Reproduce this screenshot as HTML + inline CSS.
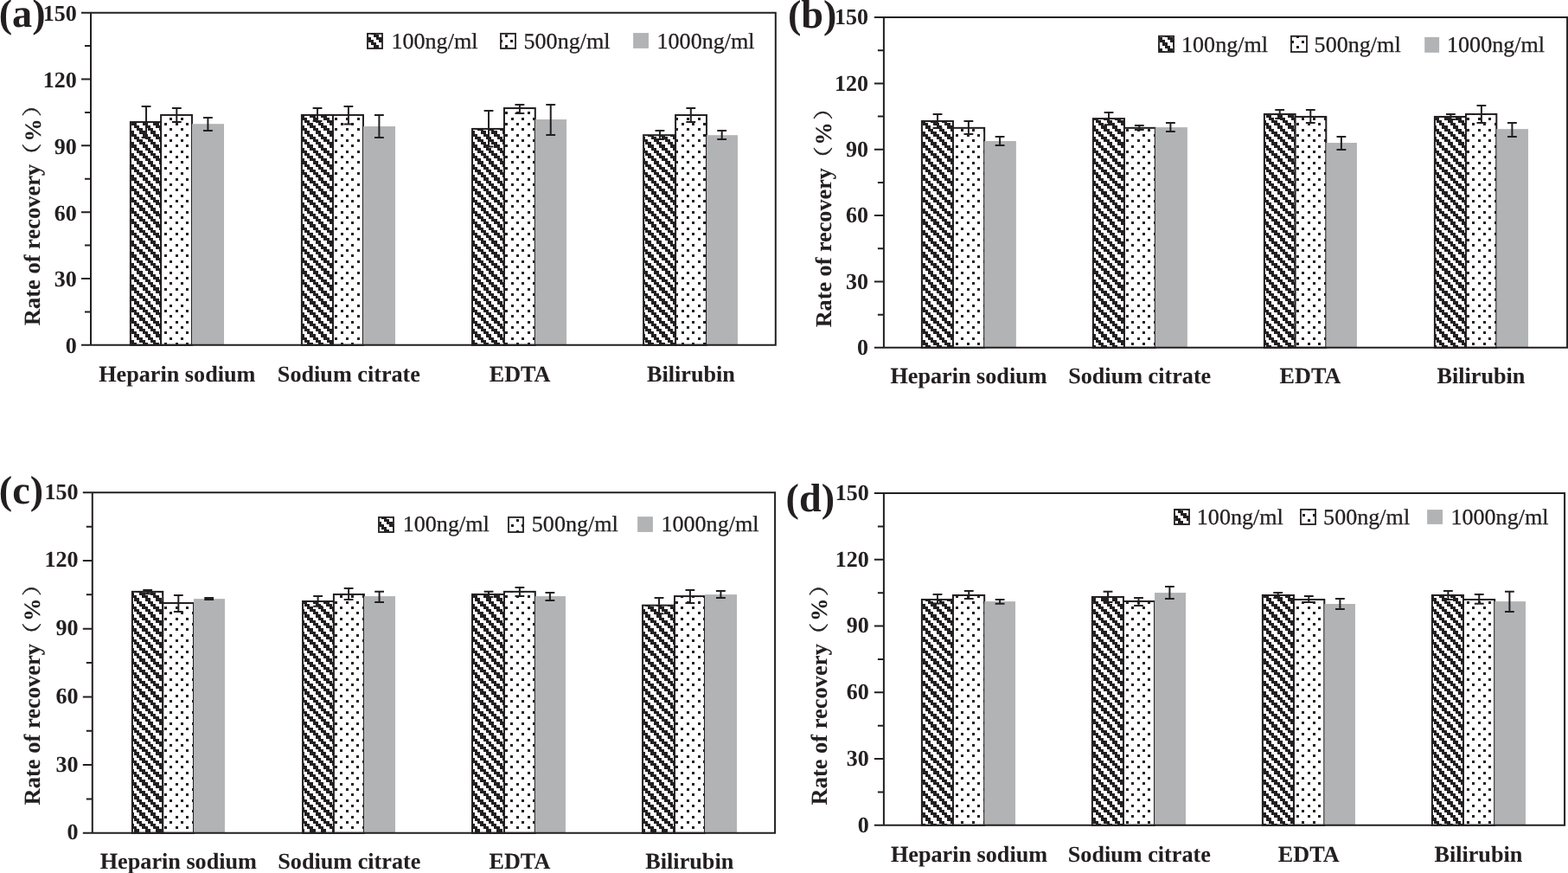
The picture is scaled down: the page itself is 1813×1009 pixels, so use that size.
<!DOCTYPE html>
<html lang="en"><head><meta charset="utf-8"><title>Rate of recovery</title>
<style>html,body{margin:0;padding:0;background:#fff;overflow:hidden}svg{display:block}text{font-family:"Liberation Serif","Noto Serif CJK SC",serif;fill:#231f20;text-rendering:geometricPrecision;stroke-linejoin:round}.b{font-weight:bold;stroke:#231f20;stroke-width:0.05}.r{stroke:#231f20;stroke-width:0.3}.cj{font-family:"Noto Serif CJK SC","Liberation Serif",serif;font-weight:normal;stroke-width:0}</style></head><body>
<svg width="1813" height="1009" viewBox="0 0 1813 1009" role="img" aria-label="Rate of recovery bar charts (a)-(d)">
<rect x="0" y="0" width="1813" height="1009" fill="#fff"/>
<defs><clipPath id="c0"><rect x="150.9" y="141.04" width="35.2" height="257.76"/></clipPath><clipPath id="c1"><rect x="186.1" y="132.94" width="35.86" height="265.86"/></clipPath><clipPath id="c2"><rect x="348.9" y="132.94" width="36.07" height="265.86"/></clipPath><clipPath id="c3"><rect x="384.97" y="132.94" width="34.99" height="265.86"/></clipPath><clipPath id="c4"><rect x="546.04" y="148.93" width="36.93" height="249.87"/></clipPath><clipPath id="c5"><rect x="582.97" y="125.05" width="35.83" height="273.75"/></clipPath><clipPath id="c6"><rect x="744.1" y="156.2" width="37" height="242.6"/></clipPath><clipPath id="c7"><rect x="781.1" y="133.05" width="35.86" height="265.75"/></clipPath><clipPath id="c8"><rect x="424.99" y="38.85" width="17.02" height="17.15"/></clipPath><clipPath id="c9"><rect x="578.99" y="38.85" width="17.02" height="17.15"/></clipPath><clipPath id="c10"><rect x="1065.9" y="139.97" width="36.07" height="261.83"/></clipPath><clipPath id="c11"><rect x="1101.97" y="147.85" width="36.21" height="253.95"/></clipPath><clipPath id="c12"><rect x="1263.9" y="137.1" width="36.07" height="264.7"/></clipPath><clipPath id="c13"><rect x="1299.97" y="147.85" width="35.83" height="253.95"/></clipPath><clipPath id="c14"><rect x="1461.9" y="131.93" width="35.7" height="269.87"/></clipPath><clipPath id="c15"><rect x="1497.6" y="134.95" width="35.7" height="266.85"/></clipPath><clipPath id="c16"><rect x="1658.9" y="134.95" width="36.07" height="266.85"/></clipPath><clipPath id="c17"><rect x="1694.97" y="131.93" width="35.33" height="269.87"/></clipPath><clipPath id="c18"><rect x="1339.99" y="41.8" width="17.1" height="18.2"/></clipPath><clipPath id="c19"><rect x="1492.99" y="41.8" width="18" height="18.2"/></clipPath><clipPath id="c20"><rect x="152.9" y="683.87" width="35.35" height="278.93"/></clipPath><clipPath id="c21"><rect x="188.25" y="696.99" width="35.71" height="265.81"/></clipPath><clipPath id="c22"><rect x="350.04" y="694.98" width="35.86" height="267.82"/></clipPath><clipPath id="c23"><rect x="385.9" y="686.95" width="35" height="275.85"/></clipPath><clipPath id="c24"><rect x="546.04" y="686.95" width="36.93" height="275.85"/></clipPath><clipPath id="c25"><rect x="582.97" y="683.87" width="35.83" height="278.93"/></clipPath><clipPath id="c26"><rect x="743.04" y="699.65" width="36.93" height="263.15"/></clipPath><clipPath id="c27"><rect x="779.97" y="689.1" width="34.99" height="273.7"/></clipPath><clipPath id="c28"><rect x="437.99" y="597.85" width="17.02" height="17.15"/></clipPath><clipPath id="c29"><rect x="587.99" y="597.85" width="17.02" height="17.15"/></clipPath><clipPath id="c30"><rect x="1065.9" y="692.98" width="36.07" height="260.82"/></clipPath><clipPath id="c31"><rect x="1101.97" y="687.96" width="36.21" height="265.84"/></clipPath><clipPath id="c32"><rect x="1262.9" y="689.97" width="36.07" height="263.83"/></clipPath><clipPath id="c33"><rect x="1298.97" y="694.98" width="36.06" height="258.82"/></clipPath><clipPath id="c34"><rect x="1459.9" y="687.96" width="36.07" height="265.84"/></clipPath><clipPath id="c35"><rect x="1495.97" y="692.98" width="35.33" height="260.82"/></clipPath><clipPath id="c36"><rect x="1655.9" y="687.96" width="36.07" height="265.84"/></clipPath><clipPath id="c37"><rect x="1691.97" y="692.98" width="36.21" height="260.82"/></clipPath><clipPath id="c38"><rect x="1357.99" y="588.85" width="17.02" height="17.15"/></clipPath><clipPath id="c39"><rect x="1503.99" y="588.85" width="17.02" height="17.15"/></clipPath></defs>
<g id="panel-a">
<rect x="150.9" y="141.04" width="35.2" height="257.76" fill="#fff"/><g clip-path="url(#c0)"><g fill="none" stroke="#231f20" stroke-width="3.175" shape-rendering="crispEdges"><path d="M150.9 143.55h35.2m-35.2 12.7h35.2m-35.2 12.7h35.2m-35.2 12.7h35.2m-35.2 12.7h35.2m-35.2 12.7h35.2m-35.2 12.7h35.2m-35.2 12.7h35.2m-35.2 12.7h35.2m-35.2 12.7h35.2m-35.2 12.7h35.2m-35.2 12.7h35.2m-35.2 12.7h35.2m-35.2 12.7h35.2m-35.2 12.7h35.2m-35.2 12.7h35.2m-35.2 12.7h35.2m-35.2 12.7h35.2m-35.2 12.7h35.2m-35.2 12.7h35.2m-35.2 12.7h35.2" stroke-dasharray="6.357 6.357" stroke-dashoffset="11.789"/><path d="M150.9 146.725h35.2m-35.2 12.7h35.2m-35.2 12.7h35.2m-35.2 12.7h35.2m-35.2 12.7h35.2m-35.2 12.7h35.2m-35.2 12.7h35.2m-35.2 12.7h35.2m-35.2 12.7h35.2m-35.2 12.7h35.2m-35.2 12.7h35.2m-35.2 12.7h35.2m-35.2 12.7h35.2m-35.2 12.7h35.2m-35.2 12.7h35.2m-35.2 12.7h35.2m-35.2 12.7h35.2m-35.2 12.7h35.2m-35.2 12.7h35.2m-35.2 12.7h35.2m-35.2 12.7h35.2" stroke-dasharray="6.357 6.357" stroke-dashoffset="8.611"/><path d="M150.9 137.2h35.2m-35.2 12.7h35.2m-35.2 12.7h35.2m-35.2 12.7h35.2m-35.2 12.7h35.2m-35.2 12.7h35.2m-35.2 12.7h35.2m-35.2 12.7h35.2m-35.2 12.7h35.2m-35.2 12.7h35.2m-35.2 12.7h35.2m-35.2 12.7h35.2m-35.2 12.7h35.2m-35.2 12.7h35.2m-35.2 12.7h35.2m-35.2 12.7h35.2m-35.2 12.7h35.2m-35.2 12.7h35.2m-35.2 12.7h35.2m-35.2 12.7h35.2m-35.2 12.7h35.2m-35.2 12.7h35.2" stroke-dasharray="6.357 6.357" stroke-dashoffset="5.432"/><path d="M150.9 140.375h35.2m-35.2 12.7h35.2m-35.2 12.7h35.2m-35.2 12.7h35.2m-35.2 12.7h35.2m-35.2 12.7h35.2m-35.2 12.7h35.2m-35.2 12.7h35.2m-35.2 12.7h35.2m-35.2 12.7h35.2m-35.2 12.7h35.2m-35.2 12.7h35.2m-35.2 12.7h35.2m-35.2 12.7h35.2m-35.2 12.7h35.2m-35.2 12.7h35.2m-35.2 12.7h35.2m-35.2 12.7h35.2m-35.2 12.7h35.2m-35.2 12.7h35.2m-35.2 12.7h35.2" stroke-dasharray="6.357 6.357" stroke-dashoffset="2.253"/></g></g><rect x="150.9" y="141.04" width="35.2" height="257.76" fill="none" stroke="#231f20" stroke-width="2"/>
<rect x="186.1" y="132.94" width="35.86" height="265.86" fill="#fff"/><g clip-path="url(#c1)"><g fill="none" stroke="#231f20" stroke-width="3" shape-rendering="crispEdges"><path d="M186.1 130.85h35.86m-35.86 12.7h35.86m-35.86 12.7h35.86m-35.86 12.7h35.86m-35.86 12.7h35.86m-35.86 12.7h35.86m-35.86 12.7h35.86m-35.86 12.7h35.86m-35.86 12.7h35.86m-35.86 12.7h35.86m-35.86 12.7h35.86m-35.86 12.7h35.86m-35.86 12.7h35.86m-35.86 12.7h35.86m-35.86 12.7h35.86m-35.86 12.7h35.86m-35.86 12.7h35.86m-35.86 12.7h35.86m-35.86 12.7h35.86m-35.86 12.7h35.86m-35.86 12.7h35.86m-35.86 12.7h35.86" stroke-dasharray="3 9.715" stroke-dashoffset="8.755"/><path d="M186.1 137.2h35.86m-35.86 12.7h35.86m-35.86 12.7h35.86m-35.86 12.7h35.86m-35.86 12.7h35.86m-35.86 12.7h35.86m-35.86 12.7h35.86m-35.86 12.7h35.86m-35.86 12.7h35.86m-35.86 12.7h35.86m-35.86 12.7h35.86m-35.86 12.7h35.86m-35.86 12.7h35.86m-35.86 12.7h35.86m-35.86 12.7h35.86m-35.86 12.7h35.86m-35.86 12.7h35.86m-35.86 12.7h35.86m-35.86 12.7h35.86m-35.86 12.7h35.86m-35.86 12.7h35.86m-35.86 12.7h35.86" stroke-dasharray="3 9.715" stroke-dashoffset="2.397"/></g></g><rect x="186.1" y="132.94" width="35.86" height="265.86" fill="none" stroke="#231f20" stroke-width="2"/>
<rect x="221.96" y="143.2" width="37.07" height="255.6" fill="#b1b3b5"/>
<path d="M169.04 122.97V158.97M163.64 122.97h10.8M163.64 158.97h10.8M204.3 125.05V141.04M198.9 125.05h10.8M198.9 141.04h10.8M240.4 136.02V151.08M235 136.02h10.8M235 151.08h10.8" fill="none" stroke="#231f20" stroke-width="2"/>
<rect x="348.9" y="132.94" width="36.07" height="265.86" fill="#fff"/><g clip-path="url(#c2)"><g fill="none" stroke="#231f20" stroke-width="3.175" shape-rendering="crispEdges"><path d="M348.9 130.85h36.07m-36.07 12.7h36.07m-36.07 12.7h36.07m-36.07 12.7h36.07m-36.07 12.7h36.07m-36.07 12.7h36.07m-36.07 12.7h36.07m-36.07 12.7h36.07m-36.07 12.7h36.07m-36.07 12.7h36.07m-36.07 12.7h36.07m-36.07 12.7h36.07m-36.07 12.7h36.07m-36.07 12.7h36.07m-36.07 12.7h36.07m-36.07 12.7h36.07m-36.07 12.7h36.07m-36.07 12.7h36.07m-36.07 12.7h36.07m-36.07 12.7h36.07m-36.07 12.7h36.07m-36.07 12.7h36.07" stroke-dasharray="6.357 6.357" stroke-dashoffset="6.349"/><path d="M348.9 134.025h36.07m-36.07 12.7h36.07m-36.07 12.7h36.07m-36.07 12.7h36.07m-36.07 12.7h36.07m-36.07 12.7h36.07m-36.07 12.7h36.07m-36.07 12.7h36.07m-36.07 12.7h36.07m-36.07 12.7h36.07m-36.07 12.7h36.07m-36.07 12.7h36.07m-36.07 12.7h36.07m-36.07 12.7h36.07m-36.07 12.7h36.07m-36.07 12.7h36.07m-36.07 12.7h36.07m-36.07 12.7h36.07m-36.07 12.7h36.07m-36.07 12.7h36.07m-36.07 12.7h36.07m-36.07 12.7h36.07" stroke-dasharray="6.357 6.357" stroke-dashoffset="3.171"/><path d="M348.9 137.2h36.07m-36.07 12.7h36.07m-36.07 12.7h36.07m-36.07 12.7h36.07m-36.07 12.7h36.07m-36.07 12.7h36.07m-36.07 12.7h36.07m-36.07 12.7h36.07m-36.07 12.7h36.07m-36.07 12.7h36.07m-36.07 12.7h36.07m-36.07 12.7h36.07m-36.07 12.7h36.07m-36.07 12.7h36.07m-36.07 12.7h36.07m-36.07 12.7h36.07m-36.07 12.7h36.07m-36.07 12.7h36.07m-36.07 12.7h36.07m-36.07 12.7h36.07m-36.07 12.7h36.07m-36.07 12.7h36.07" stroke-dasharray="6.357 6.357" stroke-dashoffset="12.707"/><path d="M348.9 140.375h36.07m-36.07 12.7h36.07m-36.07 12.7h36.07m-36.07 12.7h36.07m-36.07 12.7h36.07m-36.07 12.7h36.07m-36.07 12.7h36.07m-36.07 12.7h36.07m-36.07 12.7h36.07m-36.07 12.7h36.07m-36.07 12.7h36.07m-36.07 12.7h36.07m-36.07 12.7h36.07m-36.07 12.7h36.07m-36.07 12.7h36.07m-36.07 12.7h36.07m-36.07 12.7h36.07m-36.07 12.7h36.07m-36.07 12.7h36.07m-36.07 12.7h36.07m-36.07 12.7h36.07" stroke-dasharray="6.357 6.357" stroke-dashoffset="9.528"/></g></g><rect x="348.9" y="132.94" width="36.07" height="265.86" fill="none" stroke="#231f20" stroke-width="2"/>
<rect x="384.97" y="132.94" width="34.99" height="265.86" fill="#fff"/><g clip-path="url(#c3)"><g fill="none" stroke="#231f20" stroke-width="3" shape-rendering="crispEdges"><path d="M384.97 130.85h34.99m-34.99 12.7h34.99m-34.99 12.7h34.99m-34.99 12.7h34.99m-34.99 12.7h34.99m-34.99 12.7h34.99m-34.99 12.7h34.99m-34.99 12.7h34.99m-34.99 12.7h34.99m-34.99 12.7h34.99m-34.99 12.7h34.99m-34.99 12.7h34.99m-34.99 12.7h34.99m-34.99 12.7h34.99m-34.99 12.7h34.99m-34.99 12.7h34.99m-34.99 12.7h34.99m-34.99 12.7h34.99m-34.99 12.7h34.99m-34.99 12.7h34.99m-34.99 12.7h34.99m-34.99 12.7h34.99" stroke-dasharray="3 9.715" stroke-dashoffset="4.185"/><path d="M384.97 137.2h34.99m-34.99 12.7h34.99m-34.99 12.7h34.99m-34.99 12.7h34.99m-34.99 12.7h34.99m-34.99 12.7h34.99m-34.99 12.7h34.99m-34.99 12.7h34.99m-34.99 12.7h34.99m-34.99 12.7h34.99m-34.99 12.7h34.99m-34.99 12.7h34.99m-34.99 12.7h34.99m-34.99 12.7h34.99m-34.99 12.7h34.99m-34.99 12.7h34.99m-34.99 12.7h34.99m-34.99 12.7h34.99m-34.99 12.7h34.99m-34.99 12.7h34.99m-34.99 12.7h34.99m-34.99 12.7h34.99" stroke-dasharray="3 9.715" stroke-dashoffset="10.543"/></g></g><rect x="384.97" y="132.94" width="34.99" height="265.86" fill="none" stroke="#231f20" stroke-width="2"/>
<rect x="419.96" y="146.06" width="37.07" height="252.74" fill="#b1b3b5"/>
<path d="M367.04 125.05V139.97M361.64 125.05h10.8M361.64 139.97h10.8M402.9 122.97V143.4M397.5 122.97h10.8M397.5 143.4h10.8M438.4 132.94V158.97M433 132.94h10.8M433 158.97h10.8" fill="none" stroke="#231f20" stroke-width="2"/>
<rect x="546.04" y="148.93" width="36.93" height="249.87" fill="#fff"/><g clip-path="url(#c4)"><g fill="none" stroke="#231f20" stroke-width="3.175" shape-rendering="crispEdges"><path d="M546.04 156.25h36.93m-36.93 12.7h36.93m-36.93 12.7h36.93m-36.93 12.7h36.93m-36.93 12.7h36.93m-36.93 12.7h36.93m-36.93 12.7h36.93m-36.93 12.7h36.93m-36.93 12.7h36.93m-36.93 12.7h36.93m-36.93 12.7h36.93m-36.93 12.7h36.93m-36.93 12.7h36.93m-36.93 12.7h36.93m-36.93 12.7h36.93m-36.93 12.7h36.93m-36.93 12.7h36.93m-36.93 12.7h36.93m-36.93 12.7h36.93m-36.93 12.7h36.93" stroke-dasharray="6.357 6.357" stroke-dashoffset="0.049"/><path d="M546.04 146.725h36.93m-36.93 12.7h36.93m-36.93 12.7h36.93m-36.93 12.7h36.93m-36.93 12.7h36.93m-36.93 12.7h36.93m-36.93 12.7h36.93m-36.93 12.7h36.93m-36.93 12.7h36.93m-36.93 12.7h36.93m-36.93 12.7h36.93m-36.93 12.7h36.93m-36.93 12.7h36.93m-36.93 12.7h36.93m-36.93 12.7h36.93m-36.93 12.7h36.93m-36.93 12.7h36.93m-36.93 12.7h36.93m-36.93 12.7h36.93m-36.93 12.7h36.93m-36.93 12.7h36.93" stroke-dasharray="6.357 6.357" stroke-dashoffset="9.586"/><path d="M546.04 149.9h36.93m-36.93 12.7h36.93m-36.93 12.7h36.93m-36.93 12.7h36.93m-36.93 12.7h36.93m-36.93 12.7h36.93m-36.93 12.7h36.93m-36.93 12.7h36.93m-36.93 12.7h36.93m-36.93 12.7h36.93m-36.93 12.7h36.93m-36.93 12.7h36.93m-36.93 12.7h36.93m-36.93 12.7h36.93m-36.93 12.7h36.93m-36.93 12.7h36.93m-36.93 12.7h36.93m-36.93 12.7h36.93m-36.93 12.7h36.93m-36.93 12.7h36.93m-36.93 12.7h36.93" stroke-dasharray="6.357 6.357" stroke-dashoffset="6.407"/><path d="M546.04 153.075h36.93m-36.93 12.7h36.93m-36.93 12.7h36.93m-36.93 12.7h36.93m-36.93 12.7h36.93m-36.93 12.7h36.93m-36.93 12.7h36.93m-36.93 12.7h36.93m-36.93 12.7h36.93m-36.93 12.7h36.93m-36.93 12.7h36.93m-36.93 12.7h36.93m-36.93 12.7h36.93m-36.93 12.7h36.93m-36.93 12.7h36.93m-36.93 12.7h36.93m-36.93 12.7h36.93m-36.93 12.7h36.93m-36.93 12.7h36.93m-36.93 12.7h36.93" stroke-dasharray="6.357 6.357" stroke-dashoffset="3.228"/></g></g><rect x="546.04" y="148.93" width="36.93" height="249.87" fill="none" stroke="#231f20" stroke-width="2"/>
<rect x="582.97" y="125.05" width="35.83" height="273.75" fill="#fff"/><g clip-path="url(#c5)"><g fill="none" stroke="#231f20" stroke-width="3" shape-rendering="crispEdges"><path d="M582.97 130.85h35.83m-35.83 12.7h35.83m-35.83 12.7h35.83m-35.83 12.7h35.83m-35.83 12.7h35.83m-35.83 12.7h35.83m-35.83 12.7h35.83m-35.83 12.7h35.83m-35.83 12.7h35.83m-35.83 12.7h35.83m-35.83 12.7h35.83m-35.83 12.7h35.83m-35.83 12.7h35.83m-35.83 12.7h35.83m-35.83 12.7h35.83m-35.83 12.7h35.83m-35.83 12.7h35.83m-35.83 12.7h35.83m-35.83 12.7h35.83m-35.83 12.7h35.83m-35.83 12.7h35.83m-35.83 12.7h35.83" stroke-dasharray="3 9.715" stroke-dashoffset="11.46"/><path d="M582.97 124.5h35.83m-35.83 12.7h35.83m-35.83 12.7h35.83m-35.83 12.7h35.83m-35.83 12.7h35.83m-35.83 12.7h35.83m-35.83 12.7h35.83m-35.83 12.7h35.83m-35.83 12.7h35.83m-35.83 12.7h35.83m-35.83 12.7h35.83m-35.83 12.7h35.83m-35.83 12.7h35.83m-35.83 12.7h35.83m-35.83 12.7h35.83m-35.83 12.7h35.83m-35.83 12.7h35.83m-35.83 12.7h35.83m-35.83 12.7h35.83m-35.83 12.7h35.83m-35.83 12.7h35.83m-35.83 12.7h35.83m-35.83 12.7h35.83" stroke-dasharray="3 9.715" stroke-dashoffset="5.103"/></g></g><rect x="582.97" y="125.05" width="35.83" height="273.75" fill="none" stroke="#231f20" stroke-width="2"/>
<rect x="618.8" y="138.03" width="36.23" height="260.77" fill="#b1b3b5"/>
<path d="M565.04 127.92V169.4M559.64 127.92h10.8M559.64 169.4h10.8M600.9 120.96V131M595.5 120.96h10.8M595.5 131h10.8M636.75 120.96V155.88M631.35 120.96h10.8M631.35 155.88h10.8" fill="none" stroke="#231f20" stroke-width="2"/>
<rect x="744.1" y="156.2" width="37" height="242.6" fill="#fff"/><g clip-path="url(#c6)"><g fill="none" stroke="#231f20" stroke-width="3.175" shape-rendering="crispEdges"><path d="M744.1 156.25h37m-37 12.7h37m-37 12.7h37m-37 12.7h37m-37 12.7h37m-37 12.7h37m-37 12.7h37m-37 12.7h37m-37 12.7h37m-37 12.7h37m-37 12.7h37m-37 12.7h37m-37 12.7h37m-37 12.7h37m-37 12.7h37m-37 12.7h37m-37 12.7h37m-37 12.7h37m-37 12.7h37m-37 12.7h37" stroke-dasharray="6.357 6.357" stroke-dashoffset="7.384"/><path d="M744.1 159.425h37m-37 12.7h37m-37 12.7h37m-37 12.7h37m-37 12.7h37m-37 12.7h37m-37 12.7h37m-37 12.7h37m-37 12.7h37m-37 12.7h37m-37 12.7h37m-37 12.7h37m-37 12.7h37m-37 12.7h37m-37 12.7h37m-37 12.7h37m-37 12.7h37m-37 12.7h37m-37 12.7h37m-37 12.7h37" stroke-dasharray="6.357 6.357" stroke-dashoffset="4.206"/><path d="M744.1 162.6h37m-37 12.7h37m-37 12.7h37m-37 12.7h37m-37 12.7h37m-37 12.7h37m-37 12.7h37m-37 12.7h37m-37 12.7h37m-37 12.7h37m-37 12.7h37m-37 12.7h37m-37 12.7h37m-37 12.7h37m-37 12.7h37m-37 12.7h37m-37 12.7h37m-37 12.7h37m-37 12.7h37m-37 12.7h37" stroke-dasharray="6.357 6.357" stroke-dashoffset="1.027"/><path d="M744.1 153.075h37m-37 12.7h37m-37 12.7h37m-37 12.7h37m-37 12.7h37m-37 12.7h37m-37 12.7h37m-37 12.7h37m-37 12.7h37m-37 12.7h37m-37 12.7h37m-37 12.7h37m-37 12.7h37m-37 12.7h37m-37 12.7h37m-37 12.7h37m-37 12.7h37m-37 12.7h37m-37 12.7h37m-37 12.7h37" stroke-dasharray="6.357 6.357" stroke-dashoffset="10.563"/></g></g><rect x="744.1" y="156.2" width="37" height="242.6" fill="none" stroke="#231f20" stroke-width="2"/>
<rect x="781.1" y="133.05" width="35.86" height="265.75" fill="#fff"/><g clip-path="url(#c7)"><g fill="none" stroke="#231f20" stroke-width="3" shape-rendering="crispEdges"><path d="M781.1 130.85h35.86m-35.86 12.7h35.86m-35.86 12.7h35.86m-35.86 12.7h35.86m-35.86 12.7h35.86m-35.86 12.7h35.86m-35.86 12.7h35.86m-35.86 12.7h35.86m-35.86 12.7h35.86m-35.86 12.7h35.86m-35.86 12.7h35.86m-35.86 12.7h35.86m-35.86 12.7h35.86m-35.86 12.7h35.86m-35.86 12.7h35.86m-35.86 12.7h35.86m-35.86 12.7h35.86m-35.86 12.7h35.86m-35.86 12.7h35.86m-35.86 12.7h35.86m-35.86 12.7h35.86m-35.86 12.7h35.86" stroke-dasharray="3 9.715" stroke-dashoffset="6.15"/><path d="M781.1 137.2h35.86m-35.86 12.7h35.86m-35.86 12.7h35.86m-35.86 12.7h35.86m-35.86 12.7h35.86m-35.86 12.7h35.86m-35.86 12.7h35.86m-35.86 12.7h35.86m-35.86 12.7h35.86m-35.86 12.7h35.86m-35.86 12.7h35.86m-35.86 12.7h35.86m-35.86 12.7h35.86m-35.86 12.7h35.86m-35.86 12.7h35.86m-35.86 12.7h35.86m-35.86 12.7h35.86m-35.86 12.7h35.86m-35.86 12.7h35.86m-35.86 12.7h35.86m-35.86 12.7h35.86m-35.86 12.7h35.86" stroke-dasharray="3 9.715" stroke-dashoffset="12.508"/></g></g><rect x="781.1" y="133.05" width="35.86" height="265.75" fill="none" stroke="#231f20" stroke-width="2"/>
<rect x="816.96" y="156.2" width="35.99" height="242.6" fill="#b1b3b5"/>
<path d="M762.97 150.98V161M757.57 150.98h10.8M757.57 161h10.8M798.8 125.02V141M793.4 125.02h10.8M793.4 141h10.8M834.67 150.98V161M829.27 150.98h10.8M829.27 161h10.8" fill="none" stroke="#231f20" stroke-width="2"/>
<path d="M94 14.7H896.8V398.8H94M105 14.7V398.8M94 321.98H105M94 245.16H105M94 168.34H105M94 91.52H105M98 360.39H105M98 283.57H105M98 206.75H105M98 129.93H105M98 53.11H105" fill="none" stroke="#231f20" stroke-width="2"/>
<text class="b" x="88.7" y="408.3" font-size="26" text-anchor="end">0</text>
<text class="b" x="88.7" y="331.48" font-size="26" text-anchor="end">30</text>
<text class="b" x="88.7" y="254.66" font-size="26" text-anchor="end">60</text>
<text class="b" x="88.7" y="177.84" font-size="26" text-anchor="end">90</text>
<text class="b" x="88.7" y="101.02" font-size="26" text-anchor="end">120</text>
<text class="b" x="88.7" y="24.2" font-size="26" text-anchor="end">150</text>
<text class="b" x="-1.3" y="31.2" font-size="46.3" style="stroke-width:0">(a)</text>
<text class="b" transform="translate(46 376.2) rotate(-90)" font-size="26.5">Rate of recovery</text>
<text class="cj" transform="translate(45 193.4) rotate(-90) scale(1.243 1)" font-size="22.58" style="stroke:#231f20;stroke-width:0.45px">（</text>
<text class="b" transform="translate(46.5 163.8) rotate(-90)" font-size="26.6">%</text>
<text class="cj" transform="translate(45 134.9) rotate(-90) scale(1.243 1)" font-size="22.58" style="stroke:#231f20;stroke-width:0.45px">）</text>
<text class="b" x="204.8" y="440.8" font-size="26.2" text-anchor="middle">Heparin sodium</text>
<text class="b" x="403.4" y="440.8" font-size="26.2" text-anchor="middle">Sodium citrate</text>
<text class="b" x="601.1" y="440.8" font-size="26.2" text-anchor="middle">EDTA</text>
<text class="b" x="799" y="440.8" font-size="26.2" text-anchor="middle">Bilirubin</text>
<rect x="424.99" y="38.85" width="17.02" height="17.15" fill="#fff"/><g clip-path="url(#c8)"><g fill="none" stroke="#231f20" stroke-width="3.175" shape-rendering="crispEdges"><path d="M424.99 41.288h17.02m-17.02 12.7h17.02" stroke-dasharray="6.357 6.357" stroke-dashoffset="5.615"/><path d="M424.99 44.463h17.02m-17.02 12.7h17.02" stroke-dasharray="6.357 6.357" stroke-dashoffset="2.436"/><path d="M424.99 34.938h17.02m-17.02 12.7h17.02m-17.02 12.7h17.02" stroke-dasharray="6.357 6.357" stroke-dashoffset="11.972"/><path d="M424.99 38.113h17.02m-17.02 12.7h17.02m-17.02 12.7h17.02" stroke-dasharray="6.357 6.357" stroke-dashoffset="8.794"/></g></g><rect x="424.99" y="38.85" width="17.02" height="17.15" fill="none" stroke="#231f20" stroke-width="1.8"/>
<text class="r" transform="translate(452.4 55.85) scale(1 0.98)" font-size="26.1">100ng/ml</text>
<rect x="578.99" y="38.85" width="17.02" height="17.15" fill="#fff"/><g clip-path="url(#c9)"><g fill="none" stroke="#231f20" stroke-width="3" shape-rendering="crispEdges"><path d="M578.99 41.218h17.02m-17.02 12.7h17.02" stroke-dasharray="3 9.715" stroke-dashoffset="7.676"/><path d="M578.99 34.868h17.02m-17.02 12.7h17.02m-17.02 12.7h17.02" stroke-dasharray="3 9.715" stroke-dashoffset="1.318"/></g></g><rect x="578.99" y="38.85" width="17.02" height="17.15" fill="none" stroke="#231f20" stroke-width="1.8"/>
<text class="r" transform="translate(605.5 55.85) scale(1 0.98)" font-size="26.1">500ng/ml</text>
<rect x="732.14" y="38.09" width="17.8" height="17.8" fill="#b1b3b5"/>
<text class="r" transform="translate(759.5 55.85) scale(1 0.98)" font-size="26.1">1000ng/ml</text>
</g>
<g id="panel-b">
<rect x="1065.9" y="139.97" width="36.07" height="261.83" fill="#fff"/><g clip-path="url(#c10)"><g fill="none" stroke="#231f20" stroke-width="3.172" shape-rendering="crispEdges"><path d="M1065.9 143.77h36.07m-36.07 12.69h36.07m-36.07 12.69h36.07m-36.07 12.69h36.07m-36.07 12.69h36.07m-36.07 12.69h36.07m-36.07 12.69h36.07m-36.07 12.69h36.07m-36.07 12.69h36.07m-36.07 12.69h36.07m-36.07 12.69h36.07m-36.07 12.69h36.07m-36.07 12.69h36.07m-36.07 12.69h36.07m-36.07 12.69h36.07m-36.07 12.69h36.07m-36.07 12.69h36.07m-36.07 12.69h36.07m-36.07 12.69h36.07m-36.07 12.69h36.07m-36.07 12.69h36.07" stroke-dasharray="6.354 6.354" stroke-dashoffset="11.835"/><path d="M1065.9 146.942h36.07m-36.07 12.69h36.07m-36.07 12.69h36.07m-36.07 12.69h36.07m-36.07 12.69h36.07m-36.07 12.69h36.07m-36.07 12.69h36.07m-36.07 12.69h36.07m-36.07 12.69h36.07m-36.07 12.69h36.07m-36.07 12.69h36.07m-36.07 12.69h36.07m-36.07 12.69h36.07m-36.07 12.69h36.07m-36.07 12.69h36.07m-36.07 12.69h36.07m-36.07 12.69h36.07m-36.07 12.69h36.07m-36.07 12.69h36.07m-36.07 12.69h36.07m-36.07 12.69h36.07" stroke-dasharray="6.354 6.354" stroke-dashoffset="8.657"/><path d="M1065.9 137.425h36.07m-36.07 12.69h36.07m-36.07 12.69h36.07m-36.07 12.69h36.07m-36.07 12.69h36.07m-36.07 12.69h36.07m-36.07 12.69h36.07m-36.07 12.69h36.07m-36.07 12.69h36.07m-36.07 12.69h36.07m-36.07 12.69h36.07m-36.07 12.69h36.07m-36.07 12.69h36.07m-36.07 12.69h36.07m-36.07 12.69h36.07m-36.07 12.69h36.07m-36.07 12.69h36.07m-36.07 12.69h36.07m-36.07 12.69h36.07m-36.07 12.69h36.07m-36.07 12.69h36.07m-36.07 12.69h36.07" stroke-dasharray="6.354 6.354" stroke-dashoffset="5.48"/><path d="M1065.9 140.597h36.07m-36.07 12.69h36.07m-36.07 12.69h36.07m-36.07 12.69h36.07m-36.07 12.69h36.07m-36.07 12.69h36.07m-36.07 12.69h36.07m-36.07 12.69h36.07m-36.07 12.69h36.07m-36.07 12.69h36.07m-36.07 12.69h36.07m-36.07 12.69h36.07m-36.07 12.69h36.07m-36.07 12.69h36.07m-36.07 12.69h36.07m-36.07 12.69h36.07m-36.07 12.69h36.07m-36.07 12.69h36.07m-36.07 12.69h36.07m-36.07 12.69h36.07m-36.07 12.69h36.07m-36.07 12.69h36.07" stroke-dasharray="6.354 6.354" stroke-dashoffset="2.303"/></g></g><rect x="1065.9" y="139.97" width="36.07" height="261.83" fill="none" stroke="#231f20" stroke-width="2"/>
<rect x="1101.97" y="147.85" width="36.21" height="253.95" fill="#fff"/><g clip-path="url(#c11)"><g fill="none" stroke="#231f20" stroke-width="3" shape-rendering="crispEdges"><path d="M1101.97 143.77h36.21m-36.21 12.69h36.21m-36.21 12.69h36.21m-36.21 12.69h36.21m-36.21 12.69h36.21m-36.21 12.69h36.21m-36.21 12.69h36.21m-36.21 12.69h36.21m-36.21 12.69h36.21m-36.21 12.69h36.21m-36.21 12.69h36.21m-36.21 12.69h36.21m-36.21 12.69h36.21m-36.21 12.69h36.21m-36.21 12.69h36.21m-36.21 12.69h36.21m-36.21 12.69h36.21m-36.21 12.69h36.21m-36.21 12.69h36.21m-36.21 12.69h36.21m-36.21 12.69h36.21" stroke-dasharray="3 9.709" stroke-dashoffset="9.689"/><path d="M1101.97 150.115h36.21m-36.21 12.69h36.21m-36.21 12.69h36.21m-36.21 12.69h36.21m-36.21 12.69h36.21m-36.21 12.69h36.21m-36.21 12.69h36.21m-36.21 12.69h36.21m-36.21 12.69h36.21m-36.21 12.69h36.21m-36.21 12.69h36.21m-36.21 12.69h36.21m-36.21 12.69h36.21m-36.21 12.69h36.21m-36.21 12.69h36.21m-36.21 12.69h36.21m-36.21 12.69h36.21m-36.21 12.69h36.21m-36.21 12.69h36.21m-36.21 12.69h36.21m-36.21 12.69h36.21" stroke-dasharray="3 9.709" stroke-dashoffset="3.335"/></g></g><rect x="1101.97" y="147.85" width="36.21" height="253.95" fill="none" stroke="#231f20" stroke-width="2"/>
<rect x="1138.18" y="163.05" width="36.72" height="238.75" fill="#b1b3b5"/>
<path d="M1084.04 131.93V148.01M1078.64 131.93h10.8M1078.64 148.01h10.8M1119.9 139.97V155.02M1114.5 139.97h10.8M1114.5 155.02h10.8M1156.1 157.9V167.93M1150.7 157.9h10.8M1150.7 167.93h10.8" fill="none" stroke="#231f20" stroke-width="2"/>
<rect x="1263.9" y="137.1" width="36.07" height="264.7" fill="#fff"/><g clip-path="url(#c12)"><g fill="none" stroke="#231f20" stroke-width="3.172" shape-rendering="crispEdges"><path d="M1263.9 143.77h36.07m-36.07 12.69h36.07m-36.07 12.69h36.07m-36.07 12.69h36.07m-36.07 12.69h36.07m-36.07 12.69h36.07m-36.07 12.69h36.07m-36.07 12.69h36.07m-36.07 12.69h36.07m-36.07 12.69h36.07m-36.07 12.69h36.07m-36.07 12.69h36.07m-36.07 12.69h36.07m-36.07 12.69h36.07m-36.07 12.69h36.07m-36.07 12.69h36.07m-36.07 12.69h36.07m-36.07 12.69h36.07m-36.07 12.69h36.07m-36.07 12.69h36.07m-36.07 12.69h36.07" stroke-dasharray="6.354 6.354" stroke-dashoffset="6.491"/><path d="M1263.9 134.252h36.07m-36.07 12.69h36.07m-36.07 12.69h36.07m-36.07 12.69h36.07m-36.07 12.69h36.07m-36.07 12.69h36.07m-36.07 12.69h36.07m-36.07 12.69h36.07m-36.07 12.69h36.07m-36.07 12.69h36.07m-36.07 12.69h36.07m-36.07 12.69h36.07m-36.07 12.69h36.07m-36.07 12.69h36.07m-36.07 12.69h36.07m-36.07 12.69h36.07m-36.07 12.69h36.07m-36.07 12.69h36.07m-36.07 12.69h36.07m-36.07 12.69h36.07m-36.07 12.69h36.07m-36.07 12.69h36.07" stroke-dasharray="6.354 6.354" stroke-dashoffset="3.313"/><path d="M1263.9 137.425h36.07m-36.07 12.69h36.07m-36.07 12.69h36.07m-36.07 12.69h36.07m-36.07 12.69h36.07m-36.07 12.69h36.07m-36.07 12.69h36.07m-36.07 12.69h36.07m-36.07 12.69h36.07m-36.07 12.69h36.07m-36.07 12.69h36.07m-36.07 12.69h36.07m-36.07 12.69h36.07m-36.07 12.69h36.07m-36.07 12.69h36.07m-36.07 12.69h36.07m-36.07 12.69h36.07m-36.07 12.69h36.07m-36.07 12.69h36.07m-36.07 12.69h36.07m-36.07 12.69h36.07m-36.07 12.69h36.07" stroke-dasharray="6.354 6.354" stroke-dashoffset="0.136"/><path d="M1263.9 140.597h36.07m-36.07 12.69h36.07m-36.07 12.69h36.07m-36.07 12.69h36.07m-36.07 12.69h36.07m-36.07 12.69h36.07m-36.07 12.69h36.07m-36.07 12.69h36.07m-36.07 12.69h36.07m-36.07 12.69h36.07m-36.07 12.69h36.07m-36.07 12.69h36.07m-36.07 12.69h36.07m-36.07 12.69h36.07m-36.07 12.69h36.07m-36.07 12.69h36.07m-36.07 12.69h36.07m-36.07 12.69h36.07m-36.07 12.69h36.07m-36.07 12.69h36.07m-36.07 12.69h36.07m-36.07 12.69h36.07" stroke-dasharray="6.354 6.354" stroke-dashoffset="9.668"/></g></g><rect x="1263.9" y="137.1" width="36.07" height="264.7" fill="none" stroke="#231f20" stroke-width="2"/>
<rect x="1299.97" y="147.85" width="35.83" height="253.95" fill="#fff"/><g clip-path="url(#c13)"><g fill="none" stroke="#231f20" stroke-width="3" shape-rendering="crispEdges"><path d="M1299.97 143.77h35.83m-35.83 12.69h35.83m-35.83 12.69h35.83m-35.83 12.69h35.83m-35.83 12.69h35.83m-35.83 12.69h35.83m-35.83 12.69h35.83m-35.83 12.69h35.83m-35.83 12.69h35.83m-35.83 12.69h35.83m-35.83 12.69h35.83m-35.83 12.69h35.83m-35.83 12.69h35.83m-35.83 12.69h35.83m-35.83 12.69h35.83m-35.83 12.69h35.83m-35.83 12.69h35.83m-35.83 12.69h35.83m-35.83 12.69h35.83m-35.83 12.69h35.83m-35.83 12.69h35.83" stroke-dasharray="3 9.709" stroke-dashoffset="4.345"/><path d="M1299.97 150.115h35.83m-35.83 12.69h35.83m-35.83 12.69h35.83m-35.83 12.69h35.83m-35.83 12.69h35.83m-35.83 12.69h35.83m-35.83 12.69h35.83m-35.83 12.69h35.83m-35.83 12.69h35.83m-35.83 12.69h35.83m-35.83 12.69h35.83m-35.83 12.69h35.83m-35.83 12.69h35.83m-35.83 12.69h35.83m-35.83 12.69h35.83m-35.83 12.69h35.83m-35.83 12.69h35.83m-35.83 12.69h35.83m-35.83 12.69h35.83m-35.83 12.69h35.83m-35.83 12.69h35.83" stroke-dasharray="3 9.709" stroke-dashoffset="10.7"/></g></g><rect x="1299.97" y="147.85" width="35.83" height="253.95" fill="none" stroke="#231f20" stroke-width="2"/>
<rect x="1335.8" y="147.14" width="37.1" height="254.66" fill="#b1b3b5"/>
<path d="M1282.04 129.93V144.27M1276.64 129.93h10.8M1276.64 144.27h10.8M1317.3 144.98V150M1311.9 144.98h10.8M1311.9 150h10.8M1353.4 141.97V152M1348 141.97h10.8M1348 152h10.8" fill="none" stroke="#231f20" stroke-width="2"/>
<rect x="1461.9" y="131.93" width="35.7" height="269.87" fill="#fff"/><g clip-path="url(#c14)"><g fill="none" stroke="#231f20" stroke-width="3.172" shape-rendering="crispEdges"><path d="M1461.9 131.08h35.7m-35.7 12.69h35.7m-35.7 12.69h35.7m-35.7 12.69h35.7m-35.7 12.69h35.7m-35.7 12.69h35.7m-35.7 12.69h35.7m-35.7 12.69h35.7m-35.7 12.69h35.7m-35.7 12.69h35.7m-35.7 12.69h35.7m-35.7 12.69h35.7m-35.7 12.69h35.7m-35.7 12.69h35.7m-35.7 12.69h35.7m-35.7 12.69h35.7m-35.7 12.69h35.7m-35.7 12.69h35.7m-35.7 12.69h35.7m-35.7 12.69h35.7m-35.7 12.69h35.7m-35.7 12.69h35.7" stroke-dasharray="6.354 6.354" stroke-dashoffset="1.147"/><path d="M1461.9 134.252h35.7m-35.7 12.69h35.7m-35.7 12.69h35.7m-35.7 12.69h35.7m-35.7 12.69h35.7m-35.7 12.69h35.7m-35.7 12.69h35.7m-35.7 12.69h35.7m-35.7 12.69h35.7m-35.7 12.69h35.7m-35.7 12.69h35.7m-35.7 12.69h35.7m-35.7 12.69h35.7m-35.7 12.69h35.7m-35.7 12.69h35.7m-35.7 12.69h35.7m-35.7 12.69h35.7m-35.7 12.69h35.7m-35.7 12.69h35.7m-35.7 12.69h35.7m-35.7 12.69h35.7m-35.7 12.69h35.7" stroke-dasharray="6.354 6.354" stroke-dashoffset="10.678"/><path d="M1461.9 137.425h35.7m-35.7 12.69h35.7m-35.7 12.69h35.7m-35.7 12.69h35.7m-35.7 12.69h35.7m-35.7 12.69h35.7m-35.7 12.69h35.7m-35.7 12.69h35.7m-35.7 12.69h35.7m-35.7 12.69h35.7m-35.7 12.69h35.7m-35.7 12.69h35.7m-35.7 12.69h35.7m-35.7 12.69h35.7m-35.7 12.69h35.7m-35.7 12.69h35.7m-35.7 12.69h35.7m-35.7 12.69h35.7m-35.7 12.69h35.7m-35.7 12.69h35.7m-35.7 12.69h35.7m-35.7 12.69h35.7" stroke-dasharray="6.354 6.354" stroke-dashoffset="7.501"/><path d="M1461.9 127.907h35.7m-35.7 12.69h35.7m-35.7 12.69h35.7m-35.7 12.69h35.7m-35.7 12.69h35.7m-35.7 12.69h35.7m-35.7 12.69h35.7m-35.7 12.69h35.7m-35.7 12.69h35.7m-35.7 12.69h35.7m-35.7 12.69h35.7m-35.7 12.69h35.7m-35.7 12.69h35.7m-35.7 12.69h35.7m-35.7 12.69h35.7m-35.7 12.69h35.7m-35.7 12.69h35.7m-35.7 12.69h35.7m-35.7 12.69h35.7m-35.7 12.69h35.7m-35.7 12.69h35.7m-35.7 12.69h35.7m-35.7 12.69h35.7" stroke-dasharray="6.354 6.354" stroke-dashoffset="4.324"/></g></g><rect x="1461.9" y="131.93" width="35.7" height="269.87" fill="none" stroke="#231f20" stroke-width="2"/>
<rect x="1497.6" y="134.95" width="35.7" height="266.85" fill="#fff"/><g clip-path="url(#c15)"><g fill="none" stroke="#231f20" stroke-width="3" shape-rendering="crispEdges"><path d="M1497.6 131.08h35.7m-35.7 12.69h35.7m-35.7 12.69h35.7m-35.7 12.69h35.7m-35.7 12.69h35.7m-35.7 12.69h35.7m-35.7 12.69h35.7m-35.7 12.69h35.7m-35.7 12.69h35.7m-35.7 12.69h35.7m-35.7 12.69h35.7m-35.7 12.69h35.7m-35.7 12.69h35.7m-35.7 12.69h35.7m-35.7 12.69h35.7m-35.7 12.69h35.7m-35.7 12.69h35.7m-35.7 12.69h35.7m-35.7 12.69h35.7m-35.7 12.69h35.7m-35.7 12.69h35.7m-35.7 12.69h35.7" stroke-dasharray="3 9.709" stroke-dashoffset="11.34"/><path d="M1497.6 137.425h35.7m-35.7 12.69h35.7m-35.7 12.69h35.7m-35.7 12.69h35.7m-35.7 12.69h35.7m-35.7 12.69h35.7m-35.7 12.69h35.7m-35.7 12.69h35.7m-35.7 12.69h35.7m-35.7 12.69h35.7m-35.7 12.69h35.7m-35.7 12.69h35.7m-35.7 12.69h35.7m-35.7 12.69h35.7m-35.7 12.69h35.7m-35.7 12.69h35.7m-35.7 12.69h35.7m-35.7 12.69h35.7m-35.7 12.69h35.7m-35.7 12.69h35.7m-35.7 12.69h35.7m-35.7 12.69h35.7" stroke-dasharray="3 9.709" stroke-dashoffset="4.985"/></g></g><rect x="1497.6" y="134.95" width="35.7" height="266.85" fill="none" stroke="#231f20" stroke-width="2"/>
<rect x="1533.3" y="165.06" width="35.65" height="236.74" fill="#b1b3b5"/>
<path d="M1479.7 126.9V136.96M1474.3 126.9h10.8M1474.3 136.96h10.8M1515.3 126.9V141.97M1509.9 126.9h10.8M1509.9 141.97h10.8M1550.9 157.9V172.95M1545.5 157.9h10.8M1545.5 172.95h10.8" fill="none" stroke="#231f20" stroke-width="2"/>
<rect x="1658.9" y="134.95" width="36.07" height="266.85" fill="#fff"/><g clip-path="url(#c16)"><g fill="none" stroke="#231f20" stroke-width="3.172" shape-rendering="crispEdges"><path d="M1658.9 131.08h36.07m-36.07 12.69h36.07m-36.07 12.69h36.07m-36.07 12.69h36.07m-36.07 12.69h36.07m-36.07 12.69h36.07m-36.07 12.69h36.07m-36.07 12.69h36.07m-36.07 12.69h36.07m-36.07 12.69h36.07m-36.07 12.69h36.07m-36.07 12.69h36.07m-36.07 12.69h36.07m-36.07 12.69h36.07m-36.07 12.69h36.07m-36.07 12.69h36.07m-36.07 12.69h36.07m-36.07 12.69h36.07m-36.07 12.69h36.07m-36.07 12.69h36.07m-36.07 12.69h36.07m-36.07 12.69h36.07" stroke-dasharray="6.354 6.354" stroke-dashoffset="7.512"/><path d="M1658.9 134.252h36.07m-36.07 12.69h36.07m-36.07 12.69h36.07m-36.07 12.69h36.07m-36.07 12.69h36.07m-36.07 12.69h36.07m-36.07 12.69h36.07m-36.07 12.69h36.07m-36.07 12.69h36.07m-36.07 12.69h36.07m-36.07 12.69h36.07m-36.07 12.69h36.07m-36.07 12.69h36.07m-36.07 12.69h36.07m-36.07 12.69h36.07m-36.07 12.69h36.07m-36.07 12.69h36.07m-36.07 12.69h36.07m-36.07 12.69h36.07m-36.07 12.69h36.07m-36.07 12.69h36.07m-36.07 12.69h36.07" stroke-dasharray="6.354 6.354" stroke-dashoffset="4.334"/><path d="M1658.9 137.425h36.07m-36.07 12.69h36.07m-36.07 12.69h36.07m-36.07 12.69h36.07m-36.07 12.69h36.07m-36.07 12.69h36.07m-36.07 12.69h36.07m-36.07 12.69h36.07m-36.07 12.69h36.07m-36.07 12.69h36.07m-36.07 12.69h36.07m-36.07 12.69h36.07m-36.07 12.69h36.07m-36.07 12.69h36.07m-36.07 12.69h36.07m-36.07 12.69h36.07m-36.07 12.69h36.07m-36.07 12.69h36.07m-36.07 12.69h36.07m-36.07 12.69h36.07m-36.07 12.69h36.07m-36.07 12.69h36.07" stroke-dasharray="6.354 6.354" stroke-dashoffset="1.157"/><path d="M1658.9 140.597h36.07m-36.07 12.69h36.07m-36.07 12.69h36.07m-36.07 12.69h36.07m-36.07 12.69h36.07m-36.07 12.69h36.07m-36.07 12.69h36.07m-36.07 12.69h36.07m-36.07 12.69h36.07m-36.07 12.69h36.07m-36.07 12.69h36.07m-36.07 12.69h36.07m-36.07 12.69h36.07m-36.07 12.69h36.07m-36.07 12.69h36.07m-36.07 12.69h36.07m-36.07 12.69h36.07m-36.07 12.69h36.07m-36.07 12.69h36.07m-36.07 12.69h36.07m-36.07 12.69h36.07m-36.07 12.69h36.07" stroke-dasharray="6.354 6.354" stroke-dashoffset="10.689"/></g></g><rect x="1658.9" y="134.95" width="36.07" height="266.85" fill="none" stroke="#231f20" stroke-width="2"/>
<rect x="1694.97" y="131.93" width="35.33" height="269.87" fill="#fff"/><g clip-path="url(#c17)"><g fill="none" stroke="#231f20" stroke-width="3" shape-rendering="crispEdges"><path d="M1694.97 131.08h35.33m-35.33 12.69h35.33m-35.33 12.69h35.33m-35.33 12.69h35.33m-35.33 12.69h35.33m-35.33 12.69h35.33m-35.33 12.69h35.33m-35.33 12.69h35.33m-35.33 12.69h35.33m-35.33 12.69h35.33m-35.33 12.69h35.33m-35.33 12.69h35.33m-35.33 12.69h35.33m-35.33 12.69h35.33m-35.33 12.69h35.33m-35.33 12.69h35.33m-35.33 12.69h35.33m-35.33 12.69h35.33m-35.33 12.69h35.33m-35.33 12.69h35.33m-35.33 12.69h35.33m-35.33 12.69h35.33" stroke-dasharray="3 9.709" stroke-dashoffset="5.366"/><path d="M1694.97 137.425h35.33m-35.33 12.69h35.33m-35.33 12.69h35.33m-35.33 12.69h35.33m-35.33 12.69h35.33m-35.33 12.69h35.33m-35.33 12.69h35.33m-35.33 12.69h35.33m-35.33 12.69h35.33m-35.33 12.69h35.33m-35.33 12.69h35.33m-35.33 12.69h35.33m-35.33 12.69h35.33m-35.33 12.69h35.33m-35.33 12.69h35.33m-35.33 12.69h35.33m-35.33 12.69h35.33m-35.33 12.69h35.33m-35.33 12.69h35.33m-35.33 12.69h35.33m-35.33 12.69h35.33m-35.33 12.69h35.33" stroke-dasharray="3 9.709" stroke-dashoffset="11.721"/></g></g><rect x="1694.97" y="131.93" width="35.33" height="269.87" fill="none" stroke="#231f20" stroke-width="2"/>
<rect x="1730.3" y="149.14" width="36.73" height="252.66" fill="#b1b3b5"/>
<path d="M1677.4 131.93V137.97M1672 131.93h10.8M1672 137.97h10.8M1712.9 121.9V141.97M1707.5 121.9h10.8M1707.5 141.97h10.8M1748.4 141.97V157.9M1743 141.97h10.8M1743 157.9h10.8" fill="none" stroke="#231f20" stroke-width="2"/>
<path d="M1010.9 20.1H1812.1V401.8H1010.9M1021.9 20.1V401.8M1010.9 325.46H1021.9M1010.9 249.12H1021.9M1010.9 172.78H1021.9M1010.9 96.44H1021.9M1014.9 363.63H1021.9M1014.9 287.29H1021.9M1014.9 210.95H1021.9M1014.9 134.61H1021.9M1014.9 58.27H1021.9" fill="none" stroke="#231f20" stroke-width="2"/>
<text class="b" x="1004" y="410" font-size="26" text-anchor="end">0</text>
<text class="b" x="1004" y="333.66" font-size="26" text-anchor="end">30</text>
<text class="b" x="1004" y="257.32" font-size="26" text-anchor="end">60</text>
<text class="b" x="1004" y="180.98" font-size="26" text-anchor="end">90</text>
<text class="b" x="1004" y="104.64" font-size="26" text-anchor="end">120</text>
<text class="b" x="1004" y="28.3" font-size="26" text-anchor="end">150</text>
<text class="b" x="910.9" y="31.7" font-size="46.3" style="stroke-width:0">(b)</text>
<text class="b" transform="translate(960.6 378.3) rotate(-90)" font-size="26.2">Rate of recovery</text>
<text class="cj" transform="translate(959.6 197.35) rotate(-90) scale(1.243 1)" font-size="22.58" style="stroke:#231f20;stroke-width:0.45px">（</text>
<text class="b" transform="translate(961.1 167.75) rotate(-90)" font-size="26.6">%</text>
<text class="cj" transform="translate(959.6 138.85) rotate(-90) scale(1.243 1)" font-size="22.58" style="stroke:#231f20;stroke-width:0.45px">）</text>
<text class="b" x="1120" y="443.4" font-size="26.2" text-anchor="middle">Heparin sodium</text>
<text class="b" x="1317.7" y="443.4" font-size="26.2" text-anchor="middle">Sodium citrate</text>
<text class="b" x="1515" y="443.4" font-size="26.2" text-anchor="middle">EDTA</text>
<text class="b" x="1712.5" y="443.4" font-size="26.2" text-anchor="middle">Bilirubin</text>
<rect x="1339.99" y="41.8" width="17.1" height="18.2" fill="#fff"/><g clip-path="url(#c18)"><g fill="none" stroke="#231f20" stroke-width="3.172" shape-rendering="crispEdges"><path d="M1339.99 44.586h17.1m-17.1 12.69h17.1" stroke-dasharray="6.354 6.354" stroke-dashoffset="2.609"/><path d="M1339.99 47.759h17.1m-17.1 12.69h17.1" stroke-dasharray="6.354 6.354" stroke-dashoffset="12.141"/><path d="M1339.99 38.241h17.1m-17.1 12.69h17.1m-17.1 12.69h17.1" stroke-dasharray="6.354 6.354" stroke-dashoffset="8.964"/><path d="M1339.99 41.414h17.1m-17.1 12.69h17.1m-17.1 12.69h17.1" stroke-dasharray="6.354 6.354" stroke-dashoffset="5.786"/></g></g><rect x="1339.99" y="41.8" width="17.1" height="18.2" fill="none" stroke="#231f20" stroke-width="1.8"/>
<text class="r" transform="translate(1366 59.6) scale(1 0.98)" font-size="26.1">100ng/ml</text>
<rect x="1492.99" y="41.8" width="18" height="18.2" fill="#fff"/><g clip-path="url(#c19)"><g fill="none" stroke="#231f20" stroke-width="3" shape-rendering="crispEdges"><path d="M1492.99 48.486h18m-18 12.69h18" stroke-dasharray="3 9.709" stroke-dashoffset="0.25"/><path d="M1492.99 42.141h18m-18 12.69h18m-18 12.69h18" stroke-dasharray="3 9.709" stroke-dashoffset="6.605"/></g></g><rect x="1492.99" y="41.8" width="18" height="18.2" fill="none" stroke="#231f20" stroke-width="1.8"/>
<text class="r" transform="translate(1519.6 59.6) scale(1 0.98)" font-size="26.1">500ng/ml</text>
<rect x="1647.2" y="42.9" width="16.9" height="17.9" fill="#b1b3b5"/>
<text class="r" transform="translate(1673 59.6) scale(1 0.98)" font-size="26.1">1000ng/ml</text>
</g>
<g id="panel-c">
<rect x="152.9" y="683.87" width="35.35" height="278.93" fill="#fff"/><g clip-path="url(#c20)"><g fill="none" stroke="#231f20" stroke-width="3.18" shape-rendering="crispEdges"><path d="M152.9 689.78h35.35m-35.35 12.72h35.35m-35.35 12.72h35.35m-35.35 12.72h35.35m-35.35 12.72h35.35m-35.35 12.72h35.35m-35.35 12.72h35.35m-35.35 12.72h35.35m-35.35 12.72h35.35m-35.35 12.72h35.35m-35.35 12.72h35.35m-35.35 12.72h35.35m-35.35 12.72h35.35m-35.35 12.72h35.35m-35.35 12.72h35.35m-35.35 12.72h35.35m-35.35 12.72h35.35m-35.35 12.72h35.35m-35.35 12.72h35.35m-35.35 12.72h35.35m-35.35 12.72h35.35m-35.35 12.72h35.35m-35.35 12.72h35.35" stroke-dasharray="6.356 6.356" stroke-dashoffset="1.148"/><path d="M152.9 680.24h35.35m-35.35 12.72h35.35m-35.35 12.72h35.35m-35.35 12.72h35.35m-35.35 12.72h35.35m-35.35 12.72h35.35m-35.35 12.72h35.35m-35.35 12.72h35.35m-35.35 12.72h35.35m-35.35 12.72h35.35m-35.35 12.72h35.35m-35.35 12.72h35.35m-35.35 12.72h35.35m-35.35 12.72h35.35m-35.35 12.72h35.35m-35.35 12.72h35.35m-35.35 12.72h35.35m-35.35 12.72h35.35m-35.35 12.72h35.35m-35.35 12.72h35.35m-35.35 12.72h35.35m-35.35 12.72h35.35m-35.35 12.72h35.35" stroke-dasharray="6.356 6.356" stroke-dashoffset="10.683"/><path d="M152.9 683.42h35.35m-35.35 12.72h35.35m-35.35 12.72h35.35m-35.35 12.72h35.35m-35.35 12.72h35.35m-35.35 12.72h35.35m-35.35 12.72h35.35m-35.35 12.72h35.35m-35.35 12.72h35.35m-35.35 12.72h35.35m-35.35 12.72h35.35m-35.35 12.72h35.35m-35.35 12.72h35.35m-35.35 12.72h35.35m-35.35 12.72h35.35m-35.35 12.72h35.35m-35.35 12.72h35.35m-35.35 12.72h35.35m-35.35 12.72h35.35m-35.35 12.72h35.35m-35.35 12.72h35.35m-35.35 12.72h35.35m-35.35 12.72h35.35" stroke-dasharray="6.356 6.356" stroke-dashoffset="7.505"/><path d="M152.9 686.6h35.35m-35.35 12.72h35.35m-35.35 12.72h35.35m-35.35 12.72h35.35m-35.35 12.72h35.35m-35.35 12.72h35.35m-35.35 12.72h35.35m-35.35 12.72h35.35m-35.35 12.72h35.35m-35.35 12.72h35.35m-35.35 12.72h35.35m-35.35 12.72h35.35m-35.35 12.72h35.35m-35.35 12.72h35.35m-35.35 12.72h35.35m-35.35 12.72h35.35m-35.35 12.72h35.35m-35.35 12.72h35.35m-35.35 12.72h35.35m-35.35 12.72h35.35m-35.35 12.72h35.35m-35.35 12.72h35.35m-35.35 12.72h35.35" stroke-dasharray="6.356 6.356" stroke-dashoffset="4.326"/></g></g><rect x="152.9" y="683.87" width="35.35" height="278.93" fill="none" stroke="#231f20" stroke-width="2"/>
<rect x="188.25" y="696.99" width="35.71" height="265.81" fill="#fff"/><g clip-path="url(#c21)"><g fill="none" stroke="#231f20" stroke-width="3" shape-rendering="crispEdges"><path d="M188.25 702.5h35.71m-35.71 12.72h35.71m-35.71 12.72h35.71m-35.71 12.72h35.71m-35.71 12.72h35.71m-35.71 12.72h35.71m-35.71 12.72h35.71m-35.71 12.72h35.71m-35.71 12.72h35.71m-35.71 12.72h35.71m-35.71 12.72h35.71m-35.71 12.72h35.71m-35.71 12.72h35.71m-35.71 12.72h35.71m-35.71 12.72h35.71m-35.71 12.72h35.71m-35.71 12.72h35.71m-35.71 12.72h35.71m-35.71 12.72h35.71m-35.71 12.72h35.71m-35.71 12.72h35.71m-35.71 12.72h35.71" stroke-dasharray="3 9.713" stroke-dashoffset="10.983"/><path d="M188.25 696.14h35.71m-35.71 12.72h35.71m-35.71 12.72h35.71m-35.71 12.72h35.71m-35.71 12.72h35.71m-35.71 12.72h35.71m-35.71 12.72h35.71m-35.71 12.72h35.71m-35.71 12.72h35.71m-35.71 12.72h35.71m-35.71 12.72h35.71m-35.71 12.72h35.71m-35.71 12.72h35.71m-35.71 12.72h35.71m-35.71 12.72h35.71m-35.71 12.72h35.71m-35.71 12.72h35.71m-35.71 12.72h35.71m-35.71 12.72h35.71m-35.71 12.72h35.71m-35.71 12.72h35.71m-35.71 12.72h35.71" stroke-dasharray="3 9.713" stroke-dashoffset="4.627"/></g></g><rect x="188.25" y="696.99" width="35.71" height="265.81" fill="none" stroke="#231f20" stroke-width="2"/>
<rect x="223.96" y="692.12" width="35.99" height="270.68" fill="#b1b3b5"/>
<path d="M170.7 682V686.2M165.3 682h10.8M165.3 686.2h10.8M206.3 687.96V707.03M200.9 687.96h10.8M200.9 707.03h10.8M241.67 691.1V693M236.27 691.1h10.8M236.27 693h10.8" fill="none" stroke="#231f20" stroke-width="2"/>
<rect x="350.04" y="694.98" width="35.86" height="267.82" fill="#fff"/><g clip-path="url(#c22)"><g fill="none" stroke="#231f20" stroke-width="3.18" shape-rendering="crispEdges"><path d="M350.04 702.5h35.86m-35.86 12.72h35.86m-35.86 12.72h35.86m-35.86 12.72h35.86m-35.86 12.72h35.86m-35.86 12.72h35.86m-35.86 12.72h35.86m-35.86 12.72h35.86m-35.86 12.72h35.86m-35.86 12.72h35.86m-35.86 12.72h35.86m-35.86 12.72h35.86m-35.86 12.72h35.86m-35.86 12.72h35.86m-35.86 12.72h35.86m-35.86 12.72h35.86m-35.86 12.72h35.86m-35.86 12.72h35.86m-35.86 12.72h35.86m-35.86 12.72h35.86m-35.86 12.72h35.86m-35.86 12.72h35.86" stroke-dasharray="6.356 6.356" stroke-dashoffset="7.593"/><path d="M350.04 692.96h35.86m-35.86 12.72h35.86m-35.86 12.72h35.86m-35.86 12.72h35.86m-35.86 12.72h35.86m-35.86 12.72h35.86m-35.86 12.72h35.86m-35.86 12.72h35.86m-35.86 12.72h35.86m-35.86 12.72h35.86m-35.86 12.72h35.86m-35.86 12.72h35.86m-35.86 12.72h35.86m-35.86 12.72h35.86m-35.86 12.72h35.86m-35.86 12.72h35.86m-35.86 12.72h35.86m-35.86 12.72h35.86m-35.86 12.72h35.86m-35.86 12.72h35.86m-35.86 12.72h35.86m-35.86 12.72h35.86" stroke-dasharray="6.356 6.356" stroke-dashoffset="4.415"/><path d="M350.04 696.14h35.86m-35.86 12.72h35.86m-35.86 12.72h35.86m-35.86 12.72h35.86m-35.86 12.72h35.86m-35.86 12.72h35.86m-35.86 12.72h35.86m-35.86 12.72h35.86m-35.86 12.72h35.86m-35.86 12.72h35.86m-35.86 12.72h35.86m-35.86 12.72h35.86m-35.86 12.72h35.86m-35.86 12.72h35.86m-35.86 12.72h35.86m-35.86 12.72h35.86m-35.86 12.72h35.86m-35.86 12.72h35.86m-35.86 12.72h35.86m-35.86 12.72h35.86m-35.86 12.72h35.86m-35.86 12.72h35.86" stroke-dasharray="6.356 6.356" stroke-dashoffset="1.237"/><path d="M350.04 699.32h35.86m-35.86 12.72h35.86m-35.86 12.72h35.86m-35.86 12.72h35.86m-35.86 12.72h35.86m-35.86 12.72h35.86m-35.86 12.72h35.86m-35.86 12.72h35.86m-35.86 12.72h35.86m-35.86 12.72h35.86m-35.86 12.72h35.86m-35.86 12.72h35.86m-35.86 12.72h35.86m-35.86 12.72h35.86m-35.86 12.72h35.86m-35.86 12.72h35.86m-35.86 12.72h35.86m-35.86 12.72h35.86m-35.86 12.72h35.86m-35.86 12.72h35.86m-35.86 12.72h35.86m-35.86 12.72h35.86" stroke-dasharray="6.356 6.356" stroke-dashoffset="10.771"/></g></g><rect x="350.04" y="694.98" width="35.86" height="267.82" fill="none" stroke="#231f20" stroke-width="2"/>
<rect x="385.9" y="686.95" width="35" height="275.85" fill="#fff"/><g clip-path="url(#c23)"><g fill="none" stroke="#231f20" stroke-width="3" shape-rendering="crispEdges"><path d="M385.9 689.78h35m-35 12.72h35m-35 12.72h35m-35 12.72h35m-35 12.72h35m-35 12.72h35m-35 12.72h35m-35 12.72h35m-35 12.72h35m-35 12.72h35m-35 12.72h35m-35 12.72h35m-35 12.72h35m-35 12.72h35m-35 12.72h35m-35 12.72h35m-35 12.72h35m-35 12.72h35m-35 12.72h35m-35 12.72h35m-35 12.72h35m-35 12.72h35m-35 12.72h35" stroke-dasharray="3 9.713" stroke-dashoffset="5.225"/><path d="M385.9 683.42h35m-35 12.72h35m-35 12.72h35m-35 12.72h35m-35 12.72h35m-35 12.72h35m-35 12.72h35m-35 12.72h35m-35 12.72h35m-35 12.72h35m-35 12.72h35m-35 12.72h35m-35 12.72h35m-35 12.72h35m-35 12.72h35m-35 12.72h35m-35 12.72h35m-35 12.72h35m-35 12.72h35m-35 12.72h35m-35 12.72h35m-35 12.72h35m-35 12.72h35" stroke-dasharray="3 9.713" stroke-dashoffset="11.581"/></g></g><rect x="385.9" y="686.95" width="35" height="275.85" fill="none" stroke="#231f20" stroke-width="2"/>
<rect x="420.9" y="689.1" width="36.12" height="273.7" fill="#b1b3b5"/>
<path d="M367.6 689.1V700.86M362.2 689.1h10.8M362.2 700.86h10.8M403.1 679.93V692.98M397.7 679.93h10.8M397.7 692.98h10.8M438.6 683.87V696.06M433.2 683.87h10.8M433.2 696.06h10.8" fill="none" stroke="#231f20" stroke-width="2"/>
<rect x="546.04" y="686.95" width="36.93" height="275.85" fill="#fff"/><g clip-path="url(#c24)"><g fill="none" stroke="#231f20" stroke-width="3.18" shape-rendering="crispEdges"><path d="M546.04 689.78h36.93m-36.93 12.72h36.93m-36.93 12.72h36.93m-36.93 12.72h36.93m-36.93 12.72h36.93m-36.93 12.72h36.93m-36.93 12.72h36.93m-36.93 12.72h36.93m-36.93 12.72h36.93m-36.93 12.72h36.93m-36.93 12.72h36.93m-36.93 12.72h36.93m-36.93 12.72h36.93m-36.93 12.72h36.93m-36.93 12.72h36.93m-36.93 12.72h36.93m-36.93 12.72h36.93m-36.93 12.72h36.93m-36.93 12.72h36.93m-36.93 12.72h36.93m-36.93 12.72h36.93m-36.93 12.72h36.93m-36.93 12.72h36.93" stroke-dasharray="6.356 6.356" stroke-dashoffset="0.185"/><path d="M546.04 692.96h36.93m-36.93 12.72h36.93m-36.93 12.72h36.93m-36.93 12.72h36.93m-36.93 12.72h36.93m-36.93 12.72h36.93m-36.93 12.72h36.93m-36.93 12.72h36.93m-36.93 12.72h36.93m-36.93 12.72h36.93m-36.93 12.72h36.93m-36.93 12.72h36.93m-36.93 12.72h36.93m-36.93 12.72h36.93m-36.93 12.72h36.93m-36.93 12.72h36.93m-36.93 12.72h36.93m-36.93 12.72h36.93m-36.93 12.72h36.93m-36.93 12.72h36.93m-36.93 12.72h36.93m-36.93 12.72h36.93" stroke-dasharray="6.356 6.356" stroke-dashoffset="9.72"/><path d="M546.04 683.42h36.93m-36.93 12.72h36.93m-36.93 12.72h36.93m-36.93 12.72h36.93m-36.93 12.72h36.93m-36.93 12.72h36.93m-36.93 12.72h36.93m-36.93 12.72h36.93m-36.93 12.72h36.93m-36.93 12.72h36.93m-36.93 12.72h36.93m-36.93 12.72h36.93m-36.93 12.72h36.93m-36.93 12.72h36.93m-36.93 12.72h36.93m-36.93 12.72h36.93m-36.93 12.72h36.93m-36.93 12.72h36.93m-36.93 12.72h36.93m-36.93 12.72h36.93m-36.93 12.72h36.93m-36.93 12.72h36.93m-36.93 12.72h36.93" stroke-dasharray="6.356 6.356" stroke-dashoffset="6.542"/><path d="M546.04 686.6h36.93m-36.93 12.72h36.93m-36.93 12.72h36.93m-36.93 12.72h36.93m-36.93 12.72h36.93m-36.93 12.72h36.93m-36.93 12.72h36.93m-36.93 12.72h36.93m-36.93 12.72h36.93m-36.93 12.72h36.93m-36.93 12.72h36.93m-36.93 12.72h36.93m-36.93 12.72h36.93m-36.93 12.72h36.93m-36.93 12.72h36.93m-36.93 12.72h36.93m-36.93 12.72h36.93m-36.93 12.72h36.93m-36.93 12.72h36.93m-36.93 12.72h36.93m-36.93 12.72h36.93m-36.93 12.72h36.93m-36.93 12.72h36.93" stroke-dasharray="6.356 6.356" stroke-dashoffset="3.363"/></g></g><rect x="546.04" y="686.95" width="36.93" height="275.85" fill="none" stroke="#231f20" stroke-width="2"/>
<rect x="582.97" y="683.87" width="35.83" height="278.93" fill="#fff"/><g clip-path="url(#c25)"><g fill="none" stroke="#231f20" stroke-width="3" shape-rendering="crispEdges"><path d="M582.97 689.78h35.83m-35.83 12.72h35.83m-35.83 12.72h35.83m-35.83 12.72h35.83m-35.83 12.72h35.83m-35.83 12.72h35.83m-35.83 12.72h35.83m-35.83 12.72h35.83m-35.83 12.72h35.83m-35.83 12.72h35.83m-35.83 12.72h35.83m-35.83 12.72h35.83m-35.83 12.72h35.83m-35.83 12.72h35.83m-35.83 12.72h35.83m-35.83 12.72h35.83m-35.83 12.72h35.83m-35.83 12.72h35.83m-35.83 12.72h35.83m-35.83 12.72h35.83m-35.83 12.72h35.83m-35.83 12.72h35.83m-35.83 12.72h35.83" stroke-dasharray="3 9.713" stroke-dashoffset="11.6"/><path d="M582.97 683.42h35.83m-35.83 12.72h35.83m-35.83 12.72h35.83m-35.83 12.72h35.83m-35.83 12.72h35.83m-35.83 12.72h35.83m-35.83 12.72h35.83m-35.83 12.72h35.83m-35.83 12.72h35.83m-35.83 12.72h35.83m-35.83 12.72h35.83m-35.83 12.72h35.83m-35.83 12.72h35.83m-35.83 12.72h35.83m-35.83 12.72h35.83m-35.83 12.72h35.83m-35.83 12.72h35.83m-35.83 12.72h35.83m-35.83 12.72h35.83m-35.83 12.72h35.83m-35.83 12.72h35.83m-35.83 12.72h35.83m-35.83 12.72h35.83" stroke-dasharray="3 9.713" stroke-dashoffset="5.244"/></g></g><rect x="582.97" y="683.87" width="35.83" height="278.93" fill="none" stroke="#231f20" stroke-width="2"/>
<rect x="618.8" y="689.1" width="35.15" height="273.7" fill="#b1b3b5"/>
<path d="M565.04 683.87V690.03M559.64 683.87h10.8M559.64 690.03h10.8M600.9 679.07V689.1M595.5 679.07h10.8M595.5 689.1h10.8M635.9 684.95V693.9M630.5 684.95h10.8M630.5 693.9h10.8" fill="none" stroke="#231f20" stroke-width="2"/>
<rect x="743.04" y="699.65" width="36.93" height="263.15" fill="#fff"/><g clip-path="url(#c26)"><g fill="none" stroke="#231f20" stroke-width="3.18" shape-rendering="crispEdges"><path d="M743.04 702.5h36.93m-36.93 12.72h36.93m-36.93 12.72h36.93m-36.93 12.72h36.93m-36.93 12.72h36.93m-36.93 12.72h36.93m-36.93 12.72h36.93m-36.93 12.72h36.93m-36.93 12.72h36.93m-36.93 12.72h36.93m-36.93 12.72h36.93m-36.93 12.72h36.93m-36.93 12.72h36.93m-36.93 12.72h36.93m-36.93 12.72h36.93m-36.93 12.72h36.93m-36.93 12.72h36.93m-36.93 12.72h36.93m-36.93 12.72h36.93m-36.93 12.72h36.93m-36.93 12.72h36.93m-36.93 12.72h36.93" stroke-dasharray="6.356 6.356" stroke-dashoffset="6.49"/><path d="M743.04 705.68h36.93m-36.93 12.72h36.93m-36.93 12.72h36.93m-36.93 12.72h36.93m-36.93 12.72h36.93m-36.93 12.72h36.93m-36.93 12.72h36.93m-36.93 12.72h36.93m-36.93 12.72h36.93m-36.93 12.72h36.93m-36.93 12.72h36.93m-36.93 12.72h36.93m-36.93 12.72h36.93m-36.93 12.72h36.93m-36.93 12.72h36.93m-36.93 12.72h36.93m-36.93 12.72h36.93m-36.93 12.72h36.93m-36.93 12.72h36.93m-36.93 12.72h36.93m-36.93 12.72h36.93" stroke-dasharray="6.356 6.356" stroke-dashoffset="3.312"/><path d="M743.04 696.14h36.93m-36.93 12.72h36.93m-36.93 12.72h36.93m-36.93 12.72h36.93m-36.93 12.72h36.93m-36.93 12.72h36.93m-36.93 12.72h36.93m-36.93 12.72h36.93m-36.93 12.72h36.93m-36.93 12.72h36.93m-36.93 12.72h36.93m-36.93 12.72h36.93m-36.93 12.72h36.93m-36.93 12.72h36.93m-36.93 12.72h36.93m-36.93 12.72h36.93m-36.93 12.72h36.93m-36.93 12.72h36.93m-36.93 12.72h36.93m-36.93 12.72h36.93m-36.93 12.72h36.93m-36.93 12.72h36.93" stroke-dasharray="6.356 6.356" stroke-dashoffset="0.134"/><path d="M743.04 699.32h36.93m-36.93 12.72h36.93m-36.93 12.72h36.93m-36.93 12.72h36.93m-36.93 12.72h36.93m-36.93 12.72h36.93m-36.93 12.72h36.93m-36.93 12.72h36.93m-36.93 12.72h36.93m-36.93 12.72h36.93m-36.93 12.72h36.93m-36.93 12.72h36.93m-36.93 12.72h36.93m-36.93 12.72h36.93m-36.93 12.72h36.93m-36.93 12.72h36.93m-36.93 12.72h36.93m-36.93 12.72h36.93m-36.93 12.72h36.93m-36.93 12.72h36.93m-36.93 12.72h36.93m-36.93 12.72h36.93" stroke-dasharray="6.356 6.356" stroke-dashoffset="9.668"/></g></g><rect x="743.04" y="699.65" width="36.93" height="263.15" fill="none" stroke="#231f20" stroke-width="2"/>
<rect x="779.97" y="689.1" width="34.99" height="273.7" fill="#fff"/><g clip-path="url(#c27)"><g fill="none" stroke="#231f20" stroke-width="3" shape-rendering="crispEdges"><path d="M779.97 689.78h34.99m-34.99 12.72h34.99m-34.99 12.72h34.99m-34.99 12.72h34.99m-34.99 12.72h34.99m-34.99 12.72h34.99m-34.99 12.72h34.99m-34.99 12.72h34.99m-34.99 12.72h34.99m-34.99 12.72h34.99m-34.99 12.72h34.99m-34.99 12.72h34.99m-34.99 12.72h34.99m-34.99 12.72h34.99m-34.99 12.72h34.99m-34.99 12.72h34.99m-34.99 12.72h34.99m-34.99 12.72h34.99m-34.99 12.72h34.99m-34.99 12.72h34.99m-34.99 12.72h34.99m-34.99 12.72h34.99m-34.99 12.72h34.99" stroke-dasharray="3 9.713" stroke-dashoffset="5.192"/><path d="M779.97 696.14h34.99m-34.99 12.72h34.99m-34.99 12.72h34.99m-34.99 12.72h34.99m-34.99 12.72h34.99m-34.99 12.72h34.99m-34.99 12.72h34.99m-34.99 12.72h34.99m-34.99 12.72h34.99m-34.99 12.72h34.99m-34.99 12.72h34.99m-34.99 12.72h34.99m-34.99 12.72h34.99m-34.99 12.72h34.99m-34.99 12.72h34.99m-34.99 12.72h34.99m-34.99 12.72h34.99m-34.99 12.72h34.99m-34.99 12.72h34.99m-34.99 12.72h34.99m-34.99 12.72h34.99m-34.99 12.72h34.99" stroke-dasharray="3 9.713" stroke-dashoffset="11.549"/></g></g><rect x="779.97" y="689.1" width="34.99" height="273.7" fill="none" stroke="#231f20" stroke-width="2"/>
<rect x="814.96" y="687.1" width="37.07" height="275.7" fill="#b1b3b5"/>
<path d="M762.04 691.04V709.3M756.64 691.04h10.8M756.64 709.3h10.8M797.9 681.93V696.99M792.5 681.93h10.8M792.5 696.99h10.8M833.4 682.94V691.04M828 682.94h10.8M828 691.04h10.8" fill="none" stroke="#231f20" stroke-width="2"/>
<path d="M95.8 569.3H896.1V962.8H95.8M106.8 569.3V962.8M95.8 884.1H106.8M95.8 805.4H106.8M95.8 726.7H106.8M95.8 648H106.8M99.8 923.45H106.8M99.8 844.75H106.8M99.8 766.05H106.8M99.8 687.35H106.8M99.8 608.65H106.8" fill="none" stroke="#231f20" stroke-width="2"/>
<text class="b" x="90.4" y="970.2" font-size="26" text-anchor="end">0</text>
<text class="b" x="90.4" y="891.5" font-size="26" text-anchor="end">30</text>
<text class="b" x="90.4" y="812.8" font-size="26" text-anchor="end">60</text>
<text class="b" x="90.4" y="734.1" font-size="26" text-anchor="end">90</text>
<text class="b" x="90.4" y="655.4" font-size="26" text-anchor="end">120</text>
<text class="b" x="90.4" y="576.7" font-size="26" text-anchor="end">150</text>
<text class="b" x="-1.2" y="582.2" font-size="46.3" style="stroke-width:0">(c)</text>
<text class="b" transform="translate(45.6 930.4) rotate(-90)" font-size="26.5">Rate of recovery</text>
<text class="cj" transform="translate(44.6 747.6) rotate(-90) scale(1.243 1)" font-size="22.58" style="stroke:#231f20;stroke-width:0.45px">（</text>
<text class="b" transform="translate(46.1 718) rotate(-90)" font-size="26.6">%</text>
<text class="cj" transform="translate(44.6 689.1) rotate(-90) scale(1.243 1)" font-size="22.58" style="stroke:#231f20;stroke-width:0.45px">）</text>
<text class="b" x="206.35" y="1004" font-size="26.2" text-anchor="middle">Heparin sodium</text>
<text class="b" x="403.8" y="1004" font-size="26.2" text-anchor="middle">Sodium citrate</text>
<text class="b" x="600.9" y="1004" font-size="26.2" text-anchor="middle">EDTA</text>
<text class="b" x="797.3" y="1004" font-size="26.2" text-anchor="middle">Bilirubin</text>
<rect x="437.99" y="597.85" width="17.02" height="17.15" fill="#fff"/><g clip-path="url(#c28)"><g fill="none" stroke="#231f20" stroke-width="3.18" shape-rendering="crispEdges"><path d="M437.99 601.19h17.02m-17.02 12.72h17.02" stroke-dasharray="6.356 6.356" stroke-dashoffset="6.613"/><path d="M437.99 604.37h17.02m-17.02 12.72h17.02" stroke-dasharray="6.356 6.356" stroke-dashoffset="3.435"/><path d="M437.99 594.83h17.02m-17.02 12.72h17.02m-17.02 12.72h17.02" stroke-dasharray="6.356 6.356" stroke-dashoffset="0.256"/><path d="M437.99 598.01h17.02m-17.02 12.72h17.02" stroke-dasharray="6.356 6.356" stroke-dashoffset="9.791"/></g></g><rect x="437.99" y="597.85" width="17.02" height="17.15" fill="none" stroke="#231f20" stroke-width="1.8"/>
<text class="r" transform="translate(465.7 614.4) scale(1 0.98)" font-size="26.1">100ng/ml</text>
<rect x="587.99" y="597.85" width="17.02" height="17.15" fill="#fff"/><g clip-path="url(#c29)"><g fill="none" stroke="#231f20" stroke-width="3" shape-rendering="crispEdges"><path d="M587.99 601.54h17.02m-17.02 12.72h17.02" stroke-dasharray="3 9.713" stroke-dashoffset="3.724"/><path d="M587.99 595.18h17.02m-17.02 12.72h17.02m-17.02 12.72h17.02" stroke-dasharray="3 9.713" stroke-dashoffset="10.08"/></g></g><rect x="587.99" y="597.85" width="17.02" height="17.15" fill="none" stroke="#231f20" stroke-width="1.8"/>
<text class="r" transform="translate(614.8 614.4) scale(1 0.98)" font-size="26.1">500ng/ml</text>
<rect x="737.1" y="597.1" width="17.8" height="17.8" fill="#b1b3b5"/>
<text class="r" transform="translate(764.4 614.4) scale(1 0.98)" font-size="26.1">1000ng/ml</text>
</g>
<g id="panel-d">
<rect x="1065.9" y="692.98" width="36.07" height="260.82" fill="#fff"/><g clip-path="url(#c30)"><g fill="none" stroke="#231f20" stroke-width="3.175" shape-rendering="crispEdges"><path d="M1065.9 689.8h36.07m-36.07 12.7h36.07m-36.07 12.7h36.07m-36.07 12.7h36.07m-36.07 12.7h36.07m-36.07 12.7h36.07m-36.07 12.7h36.07m-36.07 12.7h36.07m-36.07 12.7h36.07m-36.07 12.7h36.07m-36.07 12.7h36.07m-36.07 12.7h36.07m-36.07 12.7h36.07m-36.07 12.7h36.07m-36.07 12.7h36.07m-36.07 12.7h36.07m-36.07 12.7h36.07m-36.07 12.7h36.07m-36.07 12.7h36.07m-36.07 12.7h36.07m-36.07 12.7h36.07m-36.07 12.7h36.07" stroke-dasharray="6.353 6.353" stroke-dashoffset="11.822"/><path d="M1065.9 692.975h36.07m-36.07 12.7h36.07m-36.07 12.7h36.07m-36.07 12.7h36.07m-36.07 12.7h36.07m-36.07 12.7h36.07m-36.07 12.7h36.07m-36.07 12.7h36.07m-36.07 12.7h36.07m-36.07 12.7h36.07m-36.07 12.7h36.07m-36.07 12.7h36.07m-36.07 12.7h36.07m-36.07 12.7h36.07m-36.07 12.7h36.07m-36.07 12.7h36.07m-36.07 12.7h36.07m-36.07 12.7h36.07m-36.07 12.7h36.07m-36.07 12.7h36.07m-36.07 12.7h36.07m-36.07 12.7h36.07" stroke-dasharray="6.353 6.353" stroke-dashoffset="8.646"/><path d="M1065.9 696.15h36.07m-36.07 12.7h36.07m-36.07 12.7h36.07m-36.07 12.7h36.07m-36.07 12.7h36.07m-36.07 12.7h36.07m-36.07 12.7h36.07m-36.07 12.7h36.07m-36.07 12.7h36.07m-36.07 12.7h36.07m-36.07 12.7h36.07m-36.07 12.7h36.07m-36.07 12.7h36.07m-36.07 12.7h36.07m-36.07 12.7h36.07m-36.07 12.7h36.07m-36.07 12.7h36.07m-36.07 12.7h36.07m-36.07 12.7h36.07m-36.07 12.7h36.07m-36.07 12.7h36.07" stroke-dasharray="6.353 6.353" stroke-dashoffset="5.469"/><path d="M1065.9 699.325h36.07m-36.07 12.7h36.07m-36.07 12.7h36.07m-36.07 12.7h36.07m-36.07 12.7h36.07m-36.07 12.7h36.07m-36.07 12.7h36.07m-36.07 12.7h36.07m-36.07 12.7h36.07m-36.07 12.7h36.07m-36.07 12.7h36.07m-36.07 12.7h36.07m-36.07 12.7h36.07m-36.07 12.7h36.07m-36.07 12.7h36.07m-36.07 12.7h36.07m-36.07 12.7h36.07m-36.07 12.7h36.07m-36.07 12.7h36.07m-36.07 12.7h36.07m-36.07 12.7h36.07" stroke-dasharray="6.353 6.353" stroke-dashoffset="2.293"/></g></g><rect x="1065.9" y="692.98" width="36.07" height="260.82" fill="none" stroke="#231f20" stroke-width="2"/>
<rect x="1101.97" y="687.96" width="36.21" height="265.84" fill="#fff"/><g clip-path="url(#c31)"><g fill="none" stroke="#231f20" stroke-width="3" shape-rendering="crispEdges"><path d="M1101.97 689.8h36.21m-36.21 12.7h36.21m-36.21 12.7h36.21m-36.21 12.7h36.21m-36.21 12.7h36.21m-36.21 12.7h36.21m-36.21 12.7h36.21m-36.21 12.7h36.21m-36.21 12.7h36.21m-36.21 12.7h36.21m-36.21 12.7h36.21m-36.21 12.7h36.21m-36.21 12.7h36.21m-36.21 12.7h36.21m-36.21 12.7h36.21m-36.21 12.7h36.21m-36.21 12.7h36.21m-36.21 12.7h36.21m-36.21 12.7h36.21m-36.21 12.7h36.21m-36.21 12.7h36.21m-36.21 12.7h36.21" stroke-dasharray="3 9.706" stroke-dashoffset="9.686"/><path d="M1101.97 683.45h36.21m-36.21 12.7h36.21m-36.21 12.7h36.21m-36.21 12.7h36.21m-36.21 12.7h36.21m-36.21 12.7h36.21m-36.21 12.7h36.21m-36.21 12.7h36.21m-36.21 12.7h36.21m-36.21 12.7h36.21m-36.21 12.7h36.21m-36.21 12.7h36.21m-36.21 12.7h36.21m-36.21 12.7h36.21m-36.21 12.7h36.21m-36.21 12.7h36.21m-36.21 12.7h36.21m-36.21 12.7h36.21m-36.21 12.7h36.21m-36.21 12.7h36.21m-36.21 12.7h36.21m-36.21 12.7h36.21" stroke-dasharray="3 9.706" stroke-dashoffset="3.333"/></g></g><rect x="1101.97" y="687.96" width="36.21" height="265.84" fill="none" stroke="#231f20" stroke-width="2"/>
<rect x="1138.18" y="695.13" width="35.85" height="258.67" fill="#b1b3b5"/>
<path d="M1084 686.95V697.6M1078.6 686.95h10.8M1078.6 697.6h10.8M1120.25 682.94V691.97M1114.85 682.94h10.8M1114.85 691.97h10.8M1156.1 692.98V697.85M1150.7 692.98h10.8M1150.7 697.85h10.8" fill="none" stroke="#231f20" stroke-width="2"/>
<rect x="1262.9" y="689.97" width="36.07" height="263.83" fill="#fff"/><g clip-path="url(#c32)"><g fill="none" stroke="#231f20" stroke-width="3.175" shape-rendering="crispEdges"><path d="M1262.9 689.8h36.07m-36.07 12.7h36.07m-36.07 12.7h36.07m-36.07 12.7h36.07m-36.07 12.7h36.07m-36.07 12.7h36.07m-36.07 12.7h36.07m-36.07 12.7h36.07m-36.07 12.7h36.07m-36.07 12.7h36.07m-36.07 12.7h36.07m-36.07 12.7h36.07m-36.07 12.7h36.07m-36.07 12.7h36.07m-36.07 12.7h36.07m-36.07 12.7h36.07m-36.07 12.7h36.07m-36.07 12.7h36.07m-36.07 12.7h36.07m-36.07 12.7h36.07m-36.07 12.7h36.07m-36.07 12.7h36.07" stroke-dasharray="6.353 6.353" stroke-dashoffset="5.526"/><path d="M1262.9 692.975h36.07m-36.07 12.7h36.07m-36.07 12.7h36.07m-36.07 12.7h36.07m-36.07 12.7h36.07m-36.07 12.7h36.07m-36.07 12.7h36.07m-36.07 12.7h36.07m-36.07 12.7h36.07m-36.07 12.7h36.07m-36.07 12.7h36.07m-36.07 12.7h36.07m-36.07 12.7h36.07m-36.07 12.7h36.07m-36.07 12.7h36.07m-36.07 12.7h36.07m-36.07 12.7h36.07m-36.07 12.7h36.07m-36.07 12.7h36.07m-36.07 12.7h36.07m-36.07 12.7h36.07m-36.07 12.7h36.07" stroke-dasharray="6.353 6.353" stroke-dashoffset="2.35"/><path d="M1262.9 696.15h36.07m-36.07 12.7h36.07m-36.07 12.7h36.07m-36.07 12.7h36.07m-36.07 12.7h36.07m-36.07 12.7h36.07m-36.07 12.7h36.07m-36.07 12.7h36.07m-36.07 12.7h36.07m-36.07 12.7h36.07m-36.07 12.7h36.07m-36.07 12.7h36.07m-36.07 12.7h36.07m-36.07 12.7h36.07m-36.07 12.7h36.07m-36.07 12.7h36.07m-36.07 12.7h36.07m-36.07 12.7h36.07m-36.07 12.7h36.07m-36.07 12.7h36.07m-36.07 12.7h36.07" stroke-dasharray="6.353 6.353" stroke-dashoffset="11.879"/><path d="M1262.9 686.625h36.07m-36.07 12.7h36.07m-36.07 12.7h36.07m-36.07 12.7h36.07m-36.07 12.7h36.07m-36.07 12.7h36.07m-36.07 12.7h36.07m-36.07 12.7h36.07m-36.07 12.7h36.07m-36.07 12.7h36.07m-36.07 12.7h36.07m-36.07 12.7h36.07m-36.07 12.7h36.07m-36.07 12.7h36.07m-36.07 12.7h36.07m-36.07 12.7h36.07m-36.07 12.7h36.07m-36.07 12.7h36.07m-36.07 12.7h36.07m-36.07 12.7h36.07m-36.07 12.7h36.07m-36.07 12.7h36.07" stroke-dasharray="6.353 6.353" stroke-dashoffset="8.703"/></g></g><rect x="1262.9" y="689.97" width="36.07" height="263.83" fill="none" stroke="#231f20" stroke-width="2"/>
<rect x="1298.97" y="694.98" width="36.06" height="258.82" fill="#fff"/><g clip-path="url(#c33)"><g fill="none" stroke="#231f20" stroke-width="3" shape-rendering="crispEdges"><path d="M1298.97 702.5h36.06m-36.06 12.7h36.06m-36.06 12.7h36.06m-36.06 12.7h36.06m-36.06 12.7h36.06m-36.06 12.7h36.06m-36.06 12.7h36.06m-36.06 12.7h36.06m-36.06 12.7h36.06m-36.06 12.7h36.06m-36.06 12.7h36.06m-36.06 12.7h36.06m-36.06 12.7h36.06m-36.06 12.7h36.06m-36.06 12.7h36.06m-36.06 12.7h36.06m-36.06 12.7h36.06m-36.06 12.7h36.06m-36.06 12.7h36.06m-36.06 12.7h36.06m-36.06 12.7h36.06" stroke-dasharray="3 9.706" stroke-dashoffset="3.39"/><path d="M1298.97 696.15h36.06m-36.06 12.7h36.06m-36.06 12.7h36.06m-36.06 12.7h36.06m-36.06 12.7h36.06m-36.06 12.7h36.06m-36.06 12.7h36.06m-36.06 12.7h36.06m-36.06 12.7h36.06m-36.06 12.7h36.06m-36.06 12.7h36.06m-36.06 12.7h36.06m-36.06 12.7h36.06m-36.06 12.7h36.06m-36.06 12.7h36.06m-36.06 12.7h36.06m-36.06 12.7h36.06m-36.06 12.7h36.06m-36.06 12.7h36.06m-36.06 12.7h36.06m-36.06 12.7h36.06" stroke-dasharray="3 9.706" stroke-dashoffset="9.743"/></g></g><rect x="1298.97" y="694.98" width="36.06" height="258.82" fill="none" stroke="#231f20" stroke-width="2"/>
<rect x="1335.03" y="685.09" width="36" height="268.71" fill="#b1b3b5"/>
<path d="M1281.04 683.87V696.07M1275.64 683.87h10.8M1275.64 696.07h10.8M1316.5 691.04V700M1311.1 691.04h10.8M1311.1 700h10.8M1352.4 677.92V691.97M1347 677.92h10.8M1347 691.97h10.8" fill="none" stroke="#231f20" stroke-width="2"/>
<rect x="1459.9" y="687.96" width="36.07" height="265.84" fill="#fff"/><g clip-path="url(#c34)"><g fill="none" stroke="#231f20" stroke-width="3.175" shape-rendering="crispEdges"><path d="M1459.9 689.8h36.07m-36.07 12.7h36.07m-36.07 12.7h36.07m-36.07 12.7h36.07m-36.07 12.7h36.07m-36.07 12.7h36.07m-36.07 12.7h36.07m-36.07 12.7h36.07m-36.07 12.7h36.07m-36.07 12.7h36.07m-36.07 12.7h36.07m-36.07 12.7h36.07m-36.07 12.7h36.07m-36.07 12.7h36.07m-36.07 12.7h36.07m-36.07 12.7h36.07m-36.07 12.7h36.07m-36.07 12.7h36.07m-36.07 12.7h36.07m-36.07 12.7h36.07m-36.07 12.7h36.07m-36.07 12.7h36.07" stroke-dasharray="6.353 6.353" stroke-dashoffset="11.936"/><path d="M1459.9 692.975h36.07m-36.07 12.7h36.07m-36.07 12.7h36.07m-36.07 12.7h36.07m-36.07 12.7h36.07m-36.07 12.7h36.07m-36.07 12.7h36.07m-36.07 12.7h36.07m-36.07 12.7h36.07m-36.07 12.7h36.07m-36.07 12.7h36.07m-36.07 12.7h36.07m-36.07 12.7h36.07m-36.07 12.7h36.07m-36.07 12.7h36.07m-36.07 12.7h36.07m-36.07 12.7h36.07m-36.07 12.7h36.07m-36.07 12.7h36.07m-36.07 12.7h36.07m-36.07 12.7h36.07m-36.07 12.7h36.07" stroke-dasharray="6.353 6.353" stroke-dashoffset="8.76"/><path d="M1459.9 683.45h36.07m-36.07 12.7h36.07m-36.07 12.7h36.07m-36.07 12.7h36.07m-36.07 12.7h36.07m-36.07 12.7h36.07m-36.07 12.7h36.07m-36.07 12.7h36.07m-36.07 12.7h36.07m-36.07 12.7h36.07m-36.07 12.7h36.07m-36.07 12.7h36.07m-36.07 12.7h36.07m-36.07 12.7h36.07m-36.07 12.7h36.07m-36.07 12.7h36.07m-36.07 12.7h36.07m-36.07 12.7h36.07m-36.07 12.7h36.07m-36.07 12.7h36.07m-36.07 12.7h36.07m-36.07 12.7h36.07" stroke-dasharray="6.353 6.353" stroke-dashoffset="5.583"/><path d="M1459.9 686.625h36.07m-36.07 12.7h36.07m-36.07 12.7h36.07m-36.07 12.7h36.07m-36.07 12.7h36.07m-36.07 12.7h36.07m-36.07 12.7h36.07m-36.07 12.7h36.07m-36.07 12.7h36.07m-36.07 12.7h36.07m-36.07 12.7h36.07m-36.07 12.7h36.07m-36.07 12.7h36.07m-36.07 12.7h36.07m-36.07 12.7h36.07m-36.07 12.7h36.07m-36.07 12.7h36.07m-36.07 12.7h36.07m-36.07 12.7h36.07m-36.07 12.7h36.07m-36.07 12.7h36.07m-36.07 12.7h36.07" stroke-dasharray="6.353 6.353" stroke-dashoffset="2.407"/></g></g><rect x="1459.9" y="687.96" width="36.07" height="265.84" fill="none" stroke="#231f20" stroke-width="2"/>
<rect x="1495.97" y="692.98" width="35.33" height="260.82" fill="#fff"/><g clip-path="url(#c35)"><g fill="none" stroke="#231f20" stroke-width="3" shape-rendering="crispEdges"><path d="M1495.97 689.8h35.33m-35.33 12.7h35.33m-35.33 12.7h35.33m-35.33 12.7h35.33m-35.33 12.7h35.33m-35.33 12.7h35.33m-35.33 12.7h35.33m-35.33 12.7h35.33m-35.33 12.7h35.33m-35.33 12.7h35.33m-35.33 12.7h35.33m-35.33 12.7h35.33m-35.33 12.7h35.33m-35.33 12.7h35.33m-35.33 12.7h35.33m-35.33 12.7h35.33m-35.33 12.7h35.33m-35.33 12.7h35.33m-35.33 12.7h35.33m-35.33 12.7h35.33m-35.33 12.7h35.33m-35.33 12.7h35.33" stroke-dasharray="3 9.706" stroke-dashoffset="9.8"/><path d="M1495.97 696.15h35.33m-35.33 12.7h35.33m-35.33 12.7h35.33m-35.33 12.7h35.33m-35.33 12.7h35.33m-35.33 12.7h35.33m-35.33 12.7h35.33m-35.33 12.7h35.33m-35.33 12.7h35.33m-35.33 12.7h35.33m-35.33 12.7h35.33m-35.33 12.7h35.33m-35.33 12.7h35.33m-35.33 12.7h35.33m-35.33 12.7h35.33m-35.33 12.7h35.33m-35.33 12.7h35.33m-35.33 12.7h35.33m-35.33 12.7h35.33m-35.33 12.7h35.33m-35.33 12.7h35.33" stroke-dasharray="3 9.706" stroke-dashoffset="3.447"/></g></g><rect x="1495.97" y="692.98" width="35.33" height="260.82" fill="none" stroke="#231f20" stroke-width="2"/>
<rect x="1531.3" y="698" width="35.65" height="255.8" fill="#b1b3b5"/>
<path d="M1477.7 684.95V690.97M1472.3 684.95h10.8M1472.3 690.97h10.8M1513.3 689.1V696.06M1507.9 689.1h10.8M1507.9 696.06h10.8M1549.4 691.97V703.95M1544 691.97h10.8M1544 703.95h10.8" fill="none" stroke="#231f20" stroke-width="2"/>
<rect x="1655.9" y="687.96" width="36.07" height="265.84" fill="#fff"/><g clip-path="url(#c36)"><g fill="none" stroke="#231f20" stroke-width="3.175" shape-rendering="crispEdges"><path d="M1655.9 689.8h36.07m-36.07 12.7h36.07m-36.07 12.7h36.07m-36.07 12.7h36.07m-36.07 12.7h36.07m-36.07 12.7h36.07m-36.07 12.7h36.07m-36.07 12.7h36.07m-36.07 12.7h36.07m-36.07 12.7h36.07m-36.07 12.7h36.07m-36.07 12.7h36.07m-36.07 12.7h36.07m-36.07 12.7h36.07m-36.07 12.7h36.07m-36.07 12.7h36.07m-36.07 12.7h36.07m-36.07 12.7h36.07m-36.07 12.7h36.07m-36.07 12.7h36.07m-36.07 12.7h36.07m-36.07 12.7h36.07" stroke-dasharray="6.353 6.353" stroke-dashoffset="4.64"/><path d="M1655.9 692.975h36.07m-36.07 12.7h36.07m-36.07 12.7h36.07m-36.07 12.7h36.07m-36.07 12.7h36.07m-36.07 12.7h36.07m-36.07 12.7h36.07m-36.07 12.7h36.07m-36.07 12.7h36.07m-36.07 12.7h36.07m-36.07 12.7h36.07m-36.07 12.7h36.07m-36.07 12.7h36.07m-36.07 12.7h36.07m-36.07 12.7h36.07m-36.07 12.7h36.07m-36.07 12.7h36.07m-36.07 12.7h36.07m-36.07 12.7h36.07m-36.07 12.7h36.07m-36.07 12.7h36.07m-36.07 12.7h36.07" stroke-dasharray="6.353 6.353" stroke-dashoffset="1.464"/><path d="M1655.9 683.45h36.07m-36.07 12.7h36.07m-36.07 12.7h36.07m-36.07 12.7h36.07m-36.07 12.7h36.07m-36.07 12.7h36.07m-36.07 12.7h36.07m-36.07 12.7h36.07m-36.07 12.7h36.07m-36.07 12.7h36.07m-36.07 12.7h36.07m-36.07 12.7h36.07m-36.07 12.7h36.07m-36.07 12.7h36.07m-36.07 12.7h36.07m-36.07 12.7h36.07m-36.07 12.7h36.07m-36.07 12.7h36.07m-36.07 12.7h36.07m-36.07 12.7h36.07m-36.07 12.7h36.07m-36.07 12.7h36.07" stroke-dasharray="6.353 6.353" stroke-dashoffset="10.993"/><path d="M1655.9 686.625h36.07m-36.07 12.7h36.07m-36.07 12.7h36.07m-36.07 12.7h36.07m-36.07 12.7h36.07m-36.07 12.7h36.07m-36.07 12.7h36.07m-36.07 12.7h36.07m-36.07 12.7h36.07m-36.07 12.7h36.07m-36.07 12.7h36.07m-36.07 12.7h36.07m-36.07 12.7h36.07m-36.07 12.7h36.07m-36.07 12.7h36.07m-36.07 12.7h36.07m-36.07 12.7h36.07m-36.07 12.7h36.07m-36.07 12.7h36.07m-36.07 12.7h36.07m-36.07 12.7h36.07m-36.07 12.7h36.07" stroke-dasharray="6.353 6.353" stroke-dashoffset="7.817"/></g></g><rect x="1655.9" y="687.96" width="36.07" height="265.84" fill="none" stroke="#231f20" stroke-width="2"/>
<rect x="1691.97" y="692.98" width="36.21" height="260.82" fill="#fff"/><g clip-path="url(#c37)"><g fill="none" stroke="#231f20" stroke-width="3" shape-rendering="crispEdges"><path d="M1691.97 689.8h36.21m-36.21 12.7h36.21m-36.21 12.7h36.21m-36.21 12.7h36.21m-36.21 12.7h36.21m-36.21 12.7h36.21m-36.21 12.7h36.21m-36.21 12.7h36.21m-36.21 12.7h36.21m-36.21 12.7h36.21m-36.21 12.7h36.21m-36.21 12.7h36.21m-36.21 12.7h36.21m-36.21 12.7h36.21m-36.21 12.7h36.21m-36.21 12.7h36.21m-36.21 12.7h36.21m-36.21 12.7h36.21m-36.21 12.7h36.21m-36.21 12.7h36.21m-36.21 12.7h36.21m-36.21 12.7h36.21" stroke-dasharray="3 9.706" stroke-dashoffset="2.504"/><path d="M1691.97 696.15h36.21m-36.21 12.7h36.21m-36.21 12.7h36.21m-36.21 12.7h36.21m-36.21 12.7h36.21m-36.21 12.7h36.21m-36.21 12.7h36.21m-36.21 12.7h36.21m-36.21 12.7h36.21m-36.21 12.7h36.21m-36.21 12.7h36.21m-36.21 12.7h36.21m-36.21 12.7h36.21m-36.21 12.7h36.21m-36.21 12.7h36.21m-36.21 12.7h36.21m-36.21 12.7h36.21m-36.21 12.7h36.21m-36.21 12.7h36.21m-36.21 12.7h36.21m-36.21 12.7h36.21" stroke-dasharray="3 9.706" stroke-dashoffset="8.857"/></g></g><rect x="1691.97" y="692.98" width="36.21" height="260.82" fill="none" stroke="#231f20" stroke-width="2"/>
<rect x="1728.18" y="695.13" width="35.85" height="258.67" fill="#b1b3b5"/>
<path d="M1674.4 682.94V692.98M1669 682.94h10.8M1669 692.98h10.8M1710.25 686.95V697.85M1704.85 686.95h10.8M1704.85 697.85h10.8M1745.4 683.87V707.03M1740 683.87h10.8M1740 707.03h10.8" fill="none" stroke="#231f20" stroke-width="2"/>
<path d="M1010.9 570.1H1809.1V953.8H1010.9M1021.9 570.1V953.8M1010.9 877.06H1021.9M1010.9 800.32H1021.9M1010.9 723.58H1021.9M1010.9 646.84H1021.9M1014.9 915.43H1021.9M1014.9 838.69H1021.9M1014.9 761.95H1021.9M1014.9 685.21H1021.9M1014.9 608.47H1021.9" fill="none" stroke="#231f20" stroke-width="2"/>
<text class="b" x="1004.7" y="961.5" font-size="26" text-anchor="end">0</text>
<text class="b" x="1004.7" y="884.76" font-size="26" text-anchor="end">30</text>
<text class="b" x="1004.7" y="808.02" font-size="26" text-anchor="end">60</text>
<text class="b" x="1004.7" y="731.28" font-size="26" text-anchor="end">90</text>
<text class="b" x="1004.7" y="654.54" font-size="26" text-anchor="end">120</text>
<text class="b" x="1004.7" y="577.8" font-size="26" text-anchor="end">150</text>
<text class="b" x="908.6" y="591.4" font-size="46.3" style="stroke-width:0">(d)</text>
<text class="b" transform="translate(955.7 930.5) rotate(-90)" font-size="26.5">Rate of recovery</text>
<text class="cj" transform="translate(954.7 747.7) rotate(-90) scale(1.243 1)" font-size="22.58" style="stroke:#231f20;stroke-width:0.45px">（</text>
<text class="b" transform="translate(956.2 718.1) rotate(-90)" font-size="26.6">%</text>
<text class="cj" transform="translate(954.7 689.2) rotate(-90) scale(1.243 1)" font-size="22.58" style="stroke:#231f20;stroke-width:0.45px">）</text>
<text class="b" x="1120.5" y="995.5" font-size="26.2" text-anchor="middle">Heparin sodium</text>
<text class="b" x="1317.3" y="995.5" font-size="26.2" text-anchor="middle">Sodium citrate</text>
<text class="b" x="1513.2" y="995.5" font-size="26.2" text-anchor="middle">EDTA</text>
<text class="b" x="1709.4" y="995.5" font-size="26.2" text-anchor="middle">Bilirubin</text>
<rect x="1357.99" y="588.85" width="17.02" height="17.15" fill="#fff"/><g clip-path="url(#c38)"><g fill="none" stroke="#231f20" stroke-width="3.175" shape-rendering="crispEdges"><path d="M1357.99 594.288h17.02m-17.02 12.7h17.02" stroke-dasharray="6.353 6.353" stroke-dashoffset="5.426"/><path d="M1357.99 584.763h17.02m-17.02 12.7h17.02m-17.02 12.7h17.02" stroke-dasharray="6.353 6.353" stroke-dashoffset="2.25"/><path d="M1357.99 587.938h17.02m-17.02 12.7h17.02m-17.02 12.7h17.02" stroke-dasharray="6.353 6.353" stroke-dashoffset="11.779"/><path d="M1357.99 591.113h17.02m-17.02 12.7h17.02" stroke-dasharray="6.353 6.353" stroke-dashoffset="8.603"/></g></g><rect x="1357.99" y="588.85" width="17.02" height="17.15" fill="none" stroke="#231f20" stroke-width="1.8"/>
<text class="r" transform="translate(1383.8 605.6) scale(1 0.98)" font-size="26.1">100ng/ml</text>
<rect x="1503.99" y="588.85" width="17.02" height="17.15" fill="#fff"/><g clip-path="url(#c39)"><g fill="none" stroke="#231f20" stroke-width="3" shape-rendering="crispEdges"><path d="M1503.99 588.738h17.02m-17.02 12.7h17.02" stroke-dasharray="3 9.706" stroke-dashoffset="4.718"/><path d="M1503.99 595.087h17.02m-17.02 12.7h17.02" stroke-dasharray="3 9.706" stroke-dashoffset="11.071"/></g></g><rect x="1503.99" y="588.85" width="17.02" height="17.15" fill="none" stroke="#231f20" stroke-width="1.8"/>
<text class="r" transform="translate(1530.1 605.6) scale(1 0.98)" font-size="26.1">500ng/ml</text>
<rect x="1650.15" y="589.1" width="17.9" height="16.8" fill="#b1b3b5"/>
<text class="r" transform="translate(1677.4 605.6) scale(1 0.98)" font-size="26.1">1000ng/ml</text>
</g>
</svg>
</body></html>
